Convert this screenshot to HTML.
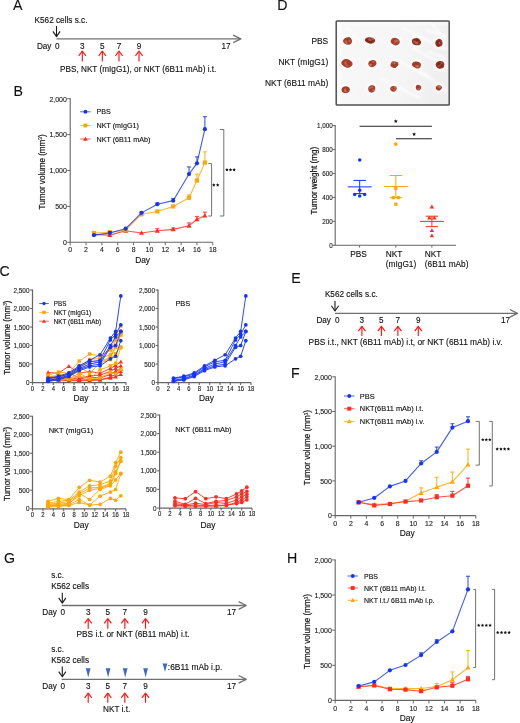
<!DOCTYPE html>
<html><head><meta charset="utf-8">
<style>
html,body{margin:0;padding:0;background:#fff;width:520px;height:723px;overflow:hidden;}
svg{display:block;font-family:"Liberation Sans", sans-serif;will-change:transform;}
</style></head>
<body>
<svg width="520" height="723" viewBox="0 0 520 723">
<rect width="520" height="723" fill="#fff"/>
<text x="13" y="9.8" font-size="14.2" textLength="9.47" lengthAdjust="spacingAndGlyphs" text-anchor="start" fill="#111" stroke="#111" stroke-width="0.1" >A</text>
<text x="34.6" y="22.5" font-size="8.77" textLength="52.87" lengthAdjust="spacingAndGlyphs" text-anchor="start" fill="#111" stroke="#111" stroke-width="0.13" >K562 cells s.c.</text>
<line x1="56.5" y1="26" x2="56.5" y2="36.3" stroke="#1a1a1a" stroke-width="1.1" />
<polyline points="52.9,31.4 56.5,36.6 60.1,31.4" fill="none" stroke="#1a1a1a" stroke-width="1.1" stroke-linejoin="round" />
<line x1="56.5" y1="38.9" x2="240" y2="38.9" stroke="#707070" stroke-width="1.3" />
<polyline points="233.2,35.1 240.8,38.9 233.2,42.7" fill="none" stroke="#707070" stroke-width="1.3" stroke-linejoin="round" />
<text x="36.9" y="49.2" font-size="8.77" textLength="14.58" lengthAdjust="spacingAndGlyphs" text-anchor="start" fill="#111" stroke="#111" stroke-width="0.13" >Day</text>
<text x="57.3" y="49.2" font-size="8.77" textLength="4.56" lengthAdjust="spacingAndGlyphs" text-anchor="middle" fill="#111" stroke="#111" stroke-width="0.13" >0</text>
<text x="82.3" y="49.2" font-size="8.77" textLength="4.56" lengthAdjust="spacingAndGlyphs" text-anchor="middle" fill="#111" stroke="#111" stroke-width="0.13" >3</text>
<text x="102.3" y="49.2" font-size="8.77" textLength="4.56" lengthAdjust="spacingAndGlyphs" text-anchor="middle" fill="#111" stroke="#111" stroke-width="0.13" >5</text>
<text x="119" y="49.2" font-size="8.77" textLength="4.56" lengthAdjust="spacingAndGlyphs" text-anchor="middle" fill="#111" stroke="#111" stroke-width="0.13" >7</text>
<text x="139" y="49.2" font-size="8.77" textLength="4.56" lengthAdjust="spacingAndGlyphs" text-anchor="middle" fill="#111" stroke="#111" stroke-width="0.13" >9</text>
<text x="226" y="48.8" font-size="8.77" textLength="9.12" lengthAdjust="spacingAndGlyphs" text-anchor="middle" fill="#111" stroke="#111" stroke-width="0.13" >17</text>
<line x1="82.3" y1="51.3" x2="82.3" y2="61.5" stroke="#ff1414" stroke-width="1.15" />
<polyline points="78.75,55.8 82.3,51 85.85,55.8" fill="none" stroke="#ff1414" stroke-width="1.15" stroke-linejoin="round" />
<line x1="102.3" y1="51.3" x2="102.3" y2="61.5" stroke="#ff1414" stroke-width="1.15" />
<polyline points="98.75,55.8 102.3,51 105.85,55.8" fill="none" stroke="#ff1414" stroke-width="1.15" stroke-linejoin="round" />
<line x1="119" y1="51.3" x2="119" y2="61.5" stroke="#ff1414" stroke-width="1.15" />
<polyline points="115.45,55.8 119,51 122.55,55.8" fill="none" stroke="#ff1414" stroke-width="1.15" stroke-linejoin="round" />
<line x1="139" y1="51.3" x2="139" y2="61.5" stroke="#ff1414" stroke-width="1.15" />
<polyline points="135.45,55.8 139,51 142.55,55.8" fill="none" stroke="#ff1414" stroke-width="1.15" stroke-linejoin="round" />
<text x="60" y="71.5" font-size="8.77" textLength="156.3" lengthAdjust="spacingAndGlyphs" text-anchor="start" fill="#111" stroke="#111" stroke-width="0.13" >PBS, NKT (mIgG1), or NKT (6B11 mAb) i.t.</text>
<text x="13.5" y="96.3" font-size="14.2" textLength="9.47" lengthAdjust="spacingAndGlyphs" text-anchor="start" fill="#111" stroke="#111" stroke-width="0.1" >B</text>
<line x1="70.2" y1="242.3" x2="70.2" y2="98.2" stroke="#666666" stroke-width="1.1" />
<line x1="69.7" y1="242.3" x2="212.8" y2="242.3" stroke="#666666" stroke-width="1.1" />
<line x1="67.2" y1="242.3" x2="70.2" y2="242.3" stroke="#666666" stroke-width="0.99" />
<text x="66.9" y="245.1" font-size="7.49" textLength="3.89" lengthAdjust="spacingAndGlyphs" text-anchor="end" fill="#222" stroke="#222" stroke-width="0.13" >0</text>
<line x1="67.2" y1="206.4" x2="70.2" y2="206.4" stroke="#666666" stroke-width="0.99" />
<text x="66.9" y="209.2" font-size="7.49" textLength="11.68" lengthAdjust="spacingAndGlyphs" text-anchor="end" fill="#222" stroke="#222" stroke-width="0.13" >500</text>
<line x1="67.2" y1="170.5" x2="70.2" y2="170.5" stroke="#666666" stroke-width="0.99" />
<text x="66.9" y="173.3" font-size="7.49" textLength="17.52" lengthAdjust="spacingAndGlyphs" text-anchor="end" fill="#222" stroke="#222" stroke-width="0.13" >1,000</text>
<line x1="67.2" y1="134.6" x2="70.2" y2="134.6" stroke="#666666" stroke-width="0.99" />
<text x="66.9" y="137.4" font-size="7.49" textLength="17.52" lengthAdjust="spacingAndGlyphs" text-anchor="end" fill="#222" stroke="#222" stroke-width="0.13" >1,500</text>
<line x1="67.2" y1="98.7" x2="70.2" y2="98.7" stroke="#666666" stroke-width="0.99" />
<text x="66.9" y="101.5" font-size="7.49" textLength="17.52" lengthAdjust="spacingAndGlyphs" text-anchor="end" fill="#222" stroke="#222" stroke-width="0.13" >2,000</text>
<line x1="70.2" y1="242.3" x2="70.2" y2="245.3" stroke="#666666" stroke-width="0.99" />
<text x="70.2" y="252.4" font-size="7.38" textLength="3.84" lengthAdjust="spacingAndGlyphs" text-anchor="middle" fill="#222" stroke="#222" stroke-width="0.13" >0</text>
<line x1="86.04" y1="242.3" x2="86.04" y2="245.3" stroke="#666666" stroke-width="0.99" />
<text x="86.04" y="252.4" font-size="7.38" textLength="3.84" lengthAdjust="spacingAndGlyphs" text-anchor="middle" fill="#222" stroke="#222" stroke-width="0.13" >2</text>
<line x1="101.89" y1="242.3" x2="101.89" y2="245.3" stroke="#666666" stroke-width="0.99" />
<text x="101.89" y="252.4" font-size="7.38" textLength="3.84" lengthAdjust="spacingAndGlyphs" text-anchor="middle" fill="#222" stroke="#222" stroke-width="0.13" >4</text>
<line x1="117.73" y1="242.3" x2="117.73" y2="245.3" stroke="#666666" stroke-width="0.99" />
<text x="117.73" y="252.4" font-size="7.38" textLength="3.84" lengthAdjust="spacingAndGlyphs" text-anchor="middle" fill="#222" stroke="#222" stroke-width="0.13" >6</text>
<line x1="133.58" y1="242.3" x2="133.58" y2="245.3" stroke="#666666" stroke-width="0.99" />
<text x="133.58" y="252.4" font-size="7.38" textLength="3.84" lengthAdjust="spacingAndGlyphs" text-anchor="middle" fill="#222" stroke="#222" stroke-width="0.13" >8</text>
<line x1="149.42" y1="242.3" x2="149.42" y2="245.3" stroke="#666666" stroke-width="0.99" />
<text x="149.42" y="252.4" font-size="7.38" textLength="7.68" lengthAdjust="spacingAndGlyphs" text-anchor="middle" fill="#222" stroke="#222" stroke-width="0.13" >10</text>
<line x1="165.27" y1="242.3" x2="165.27" y2="245.3" stroke="#666666" stroke-width="0.99" />
<text x="165.27" y="252.4" font-size="7.38" textLength="7.68" lengthAdjust="spacingAndGlyphs" text-anchor="middle" fill="#222" stroke="#222" stroke-width="0.13" >12</text>
<line x1="181.11" y1="242.3" x2="181.11" y2="245.3" stroke="#666666" stroke-width="0.99" />
<text x="181.11" y="252.4" font-size="7.38" textLength="7.68" lengthAdjust="spacingAndGlyphs" text-anchor="middle" fill="#222" stroke="#222" stroke-width="0.13" >14</text>
<line x1="196.96" y1="242.3" x2="196.96" y2="245.3" stroke="#666666" stroke-width="0.99" />
<text x="196.96" y="252.4" font-size="7.38" textLength="7.68" lengthAdjust="spacingAndGlyphs" text-anchor="middle" fill="#222" stroke="#222" stroke-width="0.13" >16</text>
<line x1="212.8" y1="242.3" x2="212.8" y2="245.3" stroke="#666666" stroke-width="0.99" />
<text x="212.8" y="252.4" font-size="7.38" textLength="7.68" lengthAdjust="spacingAndGlyphs" text-anchor="middle" fill="#222" stroke="#222" stroke-width="0.13" >18</text>
<text x="142.6" y="263" font-size="8.99" textLength="14.94" lengthAdjust="spacingAndGlyphs" text-anchor="middle" fill="#111" stroke="#111" stroke-width="0.13" >Day</text>
<text x="0" y="0" font-size="8.1" text-anchor="middle" fill="#1a1a1a" stroke="#1a1a1a" stroke-width="0.2" transform="translate(44.6,171.9) rotate(-90) scale(1,1.1)">Tumor volume (mm<tspan font-size="4.7" dy="-2.6" stroke-width="0.1">3</tspan><tspan dy="2.6">)</tspan></text>
<line x1="109.81" y1="235.12" x2="109.81" y2="232.97" stroke="#ff2b1f" stroke-width="1.15" opacity="0.8"/>
<line x1="107.81" y1="232.97" x2="111.81" y2="232.97" stroke="#ff2b1f" stroke-width="1.15" opacity="0.8"/>
<line x1="157.34" y1="230.81" x2="157.34" y2="228.66" stroke="#ff2b1f" stroke-width="1.15" opacity="0.8"/>
<line x1="155.34" y1="228.66" x2="159.34" y2="228.66" stroke="#ff2b1f" stroke-width="1.15" opacity="0.8"/>
<line x1="173.19" y1="229.38" x2="173.19" y2="227.94" stroke="#ff2b1f" stroke-width="1.15" opacity="0.8"/>
<line x1="171.19" y1="227.94" x2="175.19" y2="227.94" stroke="#ff2b1f" stroke-width="1.15" opacity="0.8"/>
<line x1="189.03" y1="225.79" x2="189.03" y2="222.91" stroke="#ff2b1f" stroke-width="1.15" opacity="0.8"/>
<line x1="187.03" y1="222.91" x2="191.03" y2="222.91" stroke="#ff2b1f" stroke-width="1.15" opacity="0.8"/>
<line x1="196.96" y1="219.32" x2="196.96" y2="216.45" stroke="#ff2b1f" stroke-width="1.15" opacity="0.8"/>
<line x1="194.96" y1="216.45" x2="198.96" y2="216.45" stroke="#ff2b1f" stroke-width="1.15" opacity="0.8"/>
<line x1="204.88" y1="215.73" x2="204.88" y2="212.14" stroke="#ff2b1f" stroke-width="1.15" opacity="0.8"/>
<line x1="202.88" y1="212.14" x2="206.88" y2="212.14" stroke="#ff2b1f" stroke-width="1.15" opacity="0.8"/>
<polyline points="93.97,234.4 109.81,235.12 125.66,230.81 141.5,232.97 157.34,230.81 173.19,229.38 189.03,225.79 196.96,219.32 204.88,215.73" fill="none" stroke="#ff2b1f" stroke-width="1.1" stroke-linejoin="round" opacity="0.82"/>
<polygon points="93.97,231.88 91.45,236.29 96.49,236.29" fill="#ff2b1f" />
<polygon points="109.81,232.6 107.29,237.01 112.33,237.01" fill="#ff2b1f" />
<polygon points="125.66,228.29 123.14,232.7 128.18,232.7" fill="#ff2b1f" />
<polygon points="141.5,230.45 138.98,234.86 144.02,234.86" fill="#ff2b1f" />
<polygon points="157.34,228.29 154.82,232.7 159.86,232.7" fill="#ff2b1f" />
<polygon points="173.19,226.86 170.67,231.27 175.71,231.27" fill="#ff2b1f" />
<polygon points="189.03,223.27 186.51,227.68 191.55,227.68" fill="#ff2b1f" />
<polygon points="196.96,216.8 194.44,221.21 199.48,221.21" fill="#ff2b1f" />
<polygon points="204.88,213.21 202.36,217.62 207.4,217.62" fill="#ff2b1f" />
<line x1="189.03" y1="197.78" x2="189.03" y2="194.91" stroke="#ffa602" stroke-width="1.15" opacity="0.8"/>
<line x1="187.03" y1="194.91" x2="191.03" y2="194.91" stroke="#ffa602" stroke-width="1.15" opacity="0.8"/>
<line x1="196.96" y1="180.55" x2="196.96" y2="174.09" stroke="#ffa602" stroke-width="1.15" opacity="0.8"/>
<line x1="194.96" y1="174.09" x2="198.96" y2="174.09" stroke="#ffa602" stroke-width="1.15" opacity="0.8"/>
<line x1="204.88" y1="162.6" x2="204.88" y2="151.83" stroke="#ffa602" stroke-width="1.15" opacity="0.8"/>
<line x1="202.88" y1="151.83" x2="206.88" y2="151.83" stroke="#ffa602" stroke-width="1.15" opacity="0.8"/>
<polyline points="93.97,232.97 109.81,232.25 125.66,230.09 141.5,214.3 157.34,211.43 173.19,206.4 189.03,197.78 196.96,180.55 204.88,162.6" fill="none" stroke="#ffa602" stroke-width="1.1" stroke-linejoin="round" opacity="0.82"/>
<rect x="91.87" y="230.87" width="4.2" height="4.2" fill="#ffa602"/>
<rect x="107.71" y="230.15" width="4.2" height="4.2" fill="#ffa602"/>
<rect x="123.56" y="227.99" width="4.2" height="4.2" fill="#ffa602"/>
<rect x="139.4" y="212.2" width="4.2" height="4.2" fill="#ffa602"/>
<rect x="155.24" y="209.33" width="4.2" height="4.2" fill="#ffa602"/>
<rect x="171.09" y="204.3" width="4.2" height="4.2" fill="#ffa602"/>
<rect x="186.93" y="195.68" width="4.2" height="4.2" fill="#ffa602"/>
<rect x="194.86" y="178.45" width="4.2" height="4.2" fill="#ffa602"/>
<rect x="202.78" y="160.5" width="4.2" height="4.2" fill="#ffa602"/>
<line x1="109.81" y1="232.97" x2="109.81" y2="231.53" stroke="#1434fa" stroke-width="1.15" opacity="0.8"/>
<line x1="107.81" y1="231.53" x2="111.81" y2="231.53" stroke="#1434fa" stroke-width="1.15" opacity="0.8"/>
<line x1="141.5" y1="212.86" x2="141.5" y2="212.14" stroke="#1434fa" stroke-width="1.15" opacity="0.8"/>
<line x1="139.5" y1="212.14" x2="143.5" y2="212.14" stroke="#1434fa" stroke-width="1.15" opacity="0.8"/>
<line x1="157.34" y1="204.25" x2="157.34" y2="202.81" stroke="#1434fa" stroke-width="1.15" opacity="0.8"/>
<line x1="155.34" y1="202.81" x2="159.34" y2="202.81" stroke="#1434fa" stroke-width="1.15" opacity="0.8"/>
<line x1="173.19" y1="200.66" x2="173.19" y2="198.5" stroke="#1434fa" stroke-width="1.15" opacity="0.8"/>
<line x1="171.19" y1="198.5" x2="175.19" y2="198.5" stroke="#1434fa" stroke-width="1.15" opacity="0.8"/>
<line x1="189.03" y1="174.09" x2="189.03" y2="166.91" stroke="#1434fa" stroke-width="1.15" opacity="0.8"/>
<line x1="187.03" y1="166.91" x2="191.03" y2="166.91" stroke="#1434fa" stroke-width="1.15" opacity="0.8"/>
<line x1="196.96" y1="163.32" x2="196.96" y2="156.86" stroke="#1434fa" stroke-width="1.15" opacity="0.8"/>
<line x1="194.96" y1="156.86" x2="198.96" y2="156.86" stroke="#1434fa" stroke-width="1.15" opacity="0.8"/>
<line x1="204.88" y1="129.21" x2="204.88" y2="116.65" stroke="#1434fa" stroke-width="1.15" opacity="0.8"/>
<line x1="202.88" y1="116.65" x2="206.88" y2="116.65" stroke="#1434fa" stroke-width="1.15" opacity="0.8"/>
<polyline points="93.97,235.12 109.81,232.97 125.66,228.66 141.5,212.86 157.34,204.25 173.19,200.66 189.03,174.09 196.96,163.32 204.88,129.21" fill="none" stroke="#1434fa" stroke-width="1.1" stroke-linejoin="round" opacity="0.82"/>
<circle cx="93.97" cy="235.12" r="2.1" fill="#1434fa"/>
<circle cx="109.81" cy="232.97" r="2.1" fill="#1434fa"/>
<circle cx="125.66" cy="228.66" r="2.1" fill="#1434fa"/>
<circle cx="141.5" cy="212.86" r="2.1" fill="#1434fa"/>
<circle cx="157.34" cy="204.25" r="2.1" fill="#1434fa"/>
<circle cx="173.19" cy="200.66" r="2.1" fill="#1434fa"/>
<circle cx="189.03" cy="174.09" r="2.1" fill="#1434fa"/>
<circle cx="196.96" cy="163.32" r="2.1" fill="#1434fa"/>
<circle cx="204.88" cy="129.21" r="2.1" fill="#1434fa"/>
<line x1="80.1" y1="111.8" x2="90.7" y2="111.8" stroke="#1434fa" stroke-width="1" opacity="0.75"/>
<circle cx="85.4" cy="111.8" r="1.95" fill="#1434fa"/>
<text x="96.5" y="114.4" font-size="7.67" textLength="14.35" lengthAdjust="spacingAndGlyphs" text-anchor="start" fill="#111" stroke="#111" stroke-width="0.13" >PBS</text>
<line x1="80.1" y1="125.5" x2="90.7" y2="125.5" stroke="#ffa602" stroke-width="1" opacity="0.75"/>
<rect x="83.45" y="123.55" width="3.9" height="3.9" fill="#ffa602"/>
<text x="96.5" y="128.1" font-size="7.67" textLength="42.5" lengthAdjust="spacingAndGlyphs" text-anchor="start" fill="#111" stroke="#111" stroke-width="0.13" >NKT (mIgG1)</text>
<line x1="80.1" y1="139" x2="90.7" y2="139" stroke="#ff2b1f" stroke-width="1" opacity="0.75"/>
<polygon points="85.4,136.66 83.06,140.75 87.74,140.75" fill="#ff2b1f" />
<text x="96.5" y="141.6" font-size="7.67" textLength="53.93" lengthAdjust="spacingAndGlyphs" text-anchor="start" fill="#111" stroke="#111" stroke-width="0.13" >NKT (6B11 mAb)</text>
<polyline points="208.3,163.6 211.6,163.6 211.6,216 208.3,216" fill="none" stroke="#6a6a6a" stroke-width="0.95" stroke-linejoin="round" />
<polygon points="213.8,183.2 214.33,184.27 215.51,184.44 214.66,185.28 214.86,186.46 213.8,185.9 212.74,186.46 212.94,185.28 212.09,184.44 213.27,184.27" fill="#111" />
<polygon points="217.7,183.2 218.23,184.27 219.41,184.44 218.56,185.28 218.76,186.46 217.7,185.9 216.64,186.46 216.84,185.28 215.99,184.44 217.17,184.27" fill="#111" />
<polyline points="219.9,129.5 223.8,129.5 223.8,216 219.9,216" fill="none" stroke="#6a6a6a" stroke-width="0.95" stroke-linejoin="round" />
<polygon points="226.9,168 227.43,169.07 228.61,169.24 227.76,170.08 227.96,171.26 226.9,170.7 225.84,171.26 226.04,170.08 225.19,169.24 226.37,169.07" fill="#111" />
<polygon points="230.5,168 231.03,169.07 232.21,169.24 231.36,170.08 231.56,171.26 230.5,170.7 229.44,171.26 229.64,170.08 228.79,169.24 229.97,169.07" fill="#111" />
<polygon points="234.1,168 234.63,169.07 235.81,169.24 234.96,170.08 235.16,171.26 234.1,170.7 233.04,171.26 233.24,170.08 232.39,169.24 233.57,169.07" fill="#111" />
<text x="-0.5" y="275.6" font-size="14.2" textLength="10.26" lengthAdjust="spacingAndGlyphs" text-anchor="start" fill="#111" stroke="#111" stroke-width="0.1" >C</text>
<line x1="32.5" y1="382.5" x2="32.5" y2="289.5" stroke="#666666" stroke-width="1.25" />
<line x1="32" y1="382.5" x2="126" y2="382.5" stroke="#666666" stroke-width="1.25" />
<line x1="30.1" y1="382.5" x2="32.5" y2="382.5" stroke="#666666" stroke-width="1.12" />
<text x="29.5" y="385.06" font-size="6.85" textLength="3.56" lengthAdjust="spacingAndGlyphs" text-anchor="end" fill="#222" stroke="#222" stroke-width="0.13" >0</text>
<line x1="30.1" y1="364" x2="32.5" y2="364" stroke="#666666" stroke-width="1.12" />
<text x="29.5" y="366.56" font-size="6.85" textLength="10.68" lengthAdjust="spacingAndGlyphs" text-anchor="end" fill="#222" stroke="#222" stroke-width="0.13" >500</text>
<line x1="30.1" y1="345.5" x2="32.5" y2="345.5" stroke="#666666" stroke-width="1.12" />
<text x="29.5" y="348.06" font-size="6.85" textLength="16.02" lengthAdjust="spacingAndGlyphs" text-anchor="end" fill="#222" stroke="#222" stroke-width="0.13" >1,000</text>
<line x1="30.1" y1="327" x2="32.5" y2="327" stroke="#666666" stroke-width="1.12" />
<text x="29.5" y="329.56" font-size="6.85" textLength="16.02" lengthAdjust="spacingAndGlyphs" text-anchor="end" fill="#222" stroke="#222" stroke-width="0.13" >1,500</text>
<line x1="30.1" y1="308.5" x2="32.5" y2="308.5" stroke="#666666" stroke-width="1.12" />
<text x="29.5" y="311.06" font-size="6.85" textLength="16.02" lengthAdjust="spacingAndGlyphs" text-anchor="end" fill="#222" stroke="#222" stroke-width="0.13" >2,000</text>
<line x1="30.1" y1="290" x2="32.5" y2="290" stroke="#666666" stroke-width="1.12" />
<text x="29.5" y="292.56" font-size="6.85" textLength="16.02" lengthAdjust="spacingAndGlyphs" text-anchor="end" fill="#222" stroke="#222" stroke-width="0.13" >2,500</text>
<line x1="32.5" y1="382.5" x2="32.5" y2="384.9" stroke="#666666" stroke-width="1.12" />
<text x="32.5" y="390.8" font-size="6.31" textLength="3.28" lengthAdjust="spacingAndGlyphs" text-anchor="middle" fill="#222" stroke="#222" stroke-width="0.13" >0</text>
<line x1="42.89" y1="382.5" x2="42.89" y2="384.9" stroke="#666666" stroke-width="1.12" />
<text x="42.89" y="390.8" font-size="6.31" textLength="3.28" lengthAdjust="spacingAndGlyphs" text-anchor="middle" fill="#222" stroke="#222" stroke-width="0.13" >2</text>
<line x1="53.28" y1="382.5" x2="53.28" y2="384.9" stroke="#666666" stroke-width="1.12" />
<text x="53.28" y="390.8" font-size="6.31" textLength="3.28" lengthAdjust="spacingAndGlyphs" text-anchor="middle" fill="#222" stroke="#222" stroke-width="0.13" >4</text>
<line x1="63.67" y1="382.5" x2="63.67" y2="384.9" stroke="#666666" stroke-width="1.12" />
<text x="63.67" y="390.8" font-size="6.31" textLength="3.28" lengthAdjust="spacingAndGlyphs" text-anchor="middle" fill="#222" stroke="#222" stroke-width="0.13" >6</text>
<line x1="74.06" y1="382.5" x2="74.06" y2="384.9" stroke="#666666" stroke-width="1.12" />
<text x="74.06" y="390.8" font-size="6.31" textLength="3.28" lengthAdjust="spacingAndGlyphs" text-anchor="middle" fill="#222" stroke="#222" stroke-width="0.13" >8</text>
<line x1="84.44" y1="382.5" x2="84.44" y2="384.9" stroke="#666666" stroke-width="1.12" />
<text x="84.44" y="390.8" font-size="6.31" textLength="6.56" lengthAdjust="spacingAndGlyphs" text-anchor="middle" fill="#222" stroke="#222" stroke-width="0.13" >10</text>
<line x1="94.83" y1="382.5" x2="94.83" y2="384.9" stroke="#666666" stroke-width="1.12" />
<text x="94.83" y="390.8" font-size="6.31" textLength="6.56" lengthAdjust="spacingAndGlyphs" text-anchor="middle" fill="#222" stroke="#222" stroke-width="0.13" >12</text>
<line x1="105.22" y1="382.5" x2="105.22" y2="384.9" stroke="#666666" stroke-width="1.12" />
<text x="105.22" y="390.8" font-size="6.31" textLength="6.56" lengthAdjust="spacingAndGlyphs" text-anchor="middle" fill="#222" stroke="#222" stroke-width="0.13" >14</text>
<line x1="115.61" y1="382.5" x2="115.61" y2="384.9" stroke="#666666" stroke-width="1.12" />
<text x="115.61" y="390.8" font-size="6.31" textLength="6.56" lengthAdjust="spacingAndGlyphs" text-anchor="middle" fill="#222" stroke="#222" stroke-width="0.13" >16</text>
<line x1="126" y1="382.5" x2="126" y2="384.9" stroke="#666666" stroke-width="1.12" />
<text x="126" y="390.8" font-size="6.31" textLength="6.56" lengthAdjust="spacingAndGlyphs" text-anchor="middle" fill="#222" stroke="#222" stroke-width="0.13" >18</text>
<text x="0" y="0" font-size="8" text-anchor="middle" fill="#1a1a1a" stroke="#1a1a1a" stroke-width="0.2" transform="translate(10.2,337.65) rotate(-90) scale(1,1.1)">Tumor volume (mm<tspan font-size="4.64" dy="-2.6" stroke-width="0.1">3</tspan><tspan dy="2.6">)</tspan></text>
<text x="81" y="401.3" font-size="8.99" textLength="14.94" lengthAdjust="spacingAndGlyphs" text-anchor="middle" fill="#111" stroke="#111" stroke-width="0.13" >Day</text>
<polyline points="48.08,372.51 58.47,373.25 68.86,366.22 79.25,373.25 89.64,371.4 100.03,373.25 110.42,368.44 115.61,365.48 120.81,361.78" fill="none" stroke="#ff2b1f" stroke-width="0.9" stroke-linejoin="round" />
<polygon points="48.08,370.29 45.86,374.18 50.3,374.18" fill="#ff2b1f" />
<polygon points="58.47,371.03 56.25,374.92 60.69,374.92" fill="#ff2b1f" />
<polygon points="68.86,364 66.64,367.89 71.08,367.89" fill="#ff2b1f" />
<polygon points="79.25,371.03 77.03,374.92 81.47,374.92" fill="#ff2b1f" />
<polygon points="89.64,369.18 87.42,373.06 91.86,373.06" fill="#ff2b1f" />
<polygon points="100.03,371.03 97.81,374.92 102.25,374.92" fill="#ff2b1f" />
<polygon points="110.42,366.22 108.2,370.11 112.64,370.11" fill="#ff2b1f" />
<polygon points="115.61,363.26 113.39,367.15 117.83,367.15" fill="#ff2b1f" />
<polygon points="120.81,359.56 118.59,363.44 123.03,363.44" fill="#ff2b1f" />
<polyline points="48.08,375.84 58.47,378.8 68.86,372.88 79.25,378.06 89.64,375.84 100.03,375.1 110.42,371.4 115.61,368.44 120.81,365.85" fill="none" stroke="#ff2b1f" stroke-width="0.9" stroke-linejoin="round" />
<polygon points="48.08,373.62 45.86,377.5 50.3,377.5" fill="#ff2b1f" />
<polygon points="58.47,376.58 56.25,380.47 60.69,380.47" fill="#ff2b1f" />
<polygon points="68.86,370.66 66.64,374.55 71.08,374.55" fill="#ff2b1f" />
<polygon points="79.25,375.84 77.03,379.73 81.47,379.73" fill="#ff2b1f" />
<polygon points="89.64,373.62 87.42,377.5 91.86,377.5" fill="#ff2b1f" />
<polygon points="100.03,372.88 97.81,376.77 102.25,376.77" fill="#ff2b1f" />
<polygon points="110.42,369.18 108.2,373.06 112.64,373.06" fill="#ff2b1f" />
<polygon points="115.61,366.22 113.39,370.11 117.83,370.11" fill="#ff2b1f" />
<polygon points="120.81,363.63 118.59,367.52 123.03,367.52" fill="#ff2b1f" />
<polyline points="48.08,378.06 58.47,379.54 68.86,377.69 79.25,379.17 89.64,376.95 100.03,378.06 110.42,374.36 115.61,371.4 120.81,368.81" fill="none" stroke="#ff2b1f" stroke-width="0.9" stroke-linejoin="round" />
<polygon points="48.08,375.84 45.86,379.73 50.3,379.73" fill="#ff2b1f" />
<polygon points="58.47,377.32 56.25,381.21 60.69,381.21" fill="#ff2b1f" />
<polygon points="68.86,375.47 66.64,379.36 71.08,379.36" fill="#ff2b1f" />
<polygon points="79.25,376.95 77.03,380.84 81.47,380.84" fill="#ff2b1f" />
<polygon points="89.64,374.73 87.42,378.62 91.86,378.62" fill="#ff2b1f" />
<polygon points="100.03,375.84 97.81,379.73 102.25,379.73" fill="#ff2b1f" />
<polygon points="110.42,372.14 108.2,376.03 112.64,376.03" fill="#ff2b1f" />
<polygon points="115.61,369.18 113.39,373.06 117.83,373.06" fill="#ff2b1f" />
<polygon points="120.81,366.59 118.59,370.48 123.03,370.48" fill="#ff2b1f" />
<polyline points="48.08,379.54 58.47,380.28 68.86,379.54 79.25,380.28 89.64,379.54 100.03,379.91 110.42,376.95 115.61,374.36 120.81,371.4" fill="none" stroke="#ff2b1f" stroke-width="0.9" stroke-linejoin="round" />
<polygon points="48.08,377.32 45.86,381.21 50.3,381.21" fill="#ff2b1f" />
<polygon points="58.47,378.06 56.25,381.94 60.69,381.94" fill="#ff2b1f" />
<polygon points="68.86,377.32 66.64,381.21 71.08,381.21" fill="#ff2b1f" />
<polygon points="79.25,378.06 77.03,381.94 81.47,381.94" fill="#ff2b1f" />
<polygon points="89.64,377.32 87.42,381.21 91.86,381.21" fill="#ff2b1f" />
<polygon points="100.03,377.69 97.81,381.58 102.25,381.58" fill="#ff2b1f" />
<polygon points="110.42,374.73 108.2,378.62 112.64,378.62" fill="#ff2b1f" />
<polygon points="115.61,372.14 113.39,376.03 117.83,376.03" fill="#ff2b1f" />
<polygon points="120.81,369.18 118.59,373.06 123.03,373.06" fill="#ff2b1f" />
<polyline points="48.08,380.28 58.47,380.65 68.86,380.65 79.25,380.65 89.64,380.65 100.03,379.91 110.42,378.06 115.61,376.95 120.81,374.36" fill="none" stroke="#ff2b1f" stroke-width="0.9" stroke-linejoin="round" />
<polygon points="48.08,378.06 45.86,381.94 50.3,381.94" fill="#ff2b1f" />
<polygon points="58.47,378.43 56.25,382.31 60.69,382.31" fill="#ff2b1f" />
<polygon points="68.86,378.43 66.64,382.31 71.08,382.31" fill="#ff2b1f" />
<polygon points="79.25,378.43 77.03,382.31 81.47,382.31" fill="#ff2b1f" />
<polygon points="89.64,378.43 87.42,382.31 91.86,382.31" fill="#ff2b1f" />
<polygon points="100.03,377.69 97.81,381.58 102.25,381.58" fill="#ff2b1f" />
<polygon points="110.42,375.84 108.2,379.73 112.64,379.73" fill="#ff2b1f" />
<polygon points="115.61,374.73 113.39,378.62 117.83,378.62" fill="#ff2b1f" />
<polygon points="120.81,372.14 118.59,376.03 123.03,376.03" fill="#ff2b1f" />
<polyline points="48.08,375.1 58.47,372.14 68.86,373.25 79.25,361.04 89.64,354.01 100.03,355.86 110.42,349.94 115.61,336.25 120.81,325.89" fill="none" stroke="#ffa602" stroke-width="0.9" stroke-linejoin="round" />
<rect x="46.38" y="373.4" width="3.4" height="3.4" fill="#ffa602"/>
<rect x="56.77" y="370.44" width="3.4" height="3.4" fill="#ffa602"/>
<rect x="67.16" y="371.55" width="3.4" height="3.4" fill="#ffa602"/>
<rect x="77.55" y="359.34" width="3.4" height="3.4" fill="#ffa602"/>
<rect x="87.94" y="352.31" width="3.4" height="3.4" fill="#ffa602"/>
<rect x="98.33" y="354.16" width="3.4" height="3.4" fill="#ffa602"/>
<rect x="108.72" y="348.24" width="3.4" height="3.4" fill="#ffa602"/>
<rect x="113.91" y="334.55" width="3.4" height="3.4" fill="#ffa602"/>
<rect x="119.11" y="324.19" width="3.4" height="3.4" fill="#ffa602"/>
<polyline points="48.08,376.95 58.47,375.1 68.86,373.99 79.25,365.85 89.64,359.56 100.03,358.45 110.42,354.75 115.61,339.95 120.81,331.44" fill="none" stroke="#ffa602" stroke-width="0.9" stroke-linejoin="round" />
<rect x="46.38" y="375.25" width="3.4" height="3.4" fill="#ffa602"/>
<rect x="56.77" y="373.4" width="3.4" height="3.4" fill="#ffa602"/>
<rect x="67.16" y="372.29" width="3.4" height="3.4" fill="#ffa602"/>
<rect x="77.55" y="364.15" width="3.4" height="3.4" fill="#ffa602"/>
<rect x="87.94" y="357.86" width="3.4" height="3.4" fill="#ffa602"/>
<rect x="98.33" y="356.75" width="3.4" height="3.4" fill="#ffa602"/>
<rect x="108.72" y="353.05" width="3.4" height="3.4" fill="#ffa602"/>
<rect x="113.91" y="338.25" width="3.4" height="3.4" fill="#ffa602"/>
<rect x="119.11" y="329.74" width="3.4" height="3.4" fill="#ffa602"/>
<polyline points="48.08,378.06 58.47,376.95 68.86,375.1 79.25,367.7 89.64,361.78 100.03,361.04 110.42,357.34 115.61,345.5 120.81,334.4" fill="none" stroke="#ffa602" stroke-width="0.9" stroke-linejoin="round" />
<rect x="46.38" y="376.36" width="3.4" height="3.4" fill="#ffa602"/>
<rect x="56.77" y="375.25" width="3.4" height="3.4" fill="#ffa602"/>
<rect x="67.16" y="373.4" width="3.4" height="3.4" fill="#ffa602"/>
<rect x="77.55" y="366" width="3.4" height="3.4" fill="#ffa602"/>
<rect x="87.94" y="360.08" width="3.4" height="3.4" fill="#ffa602"/>
<rect x="98.33" y="359.34" width="3.4" height="3.4" fill="#ffa602"/>
<rect x="108.72" y="355.64" width="3.4" height="3.4" fill="#ffa602"/>
<rect x="113.91" y="343.8" width="3.4" height="3.4" fill="#ffa602"/>
<rect x="119.11" y="332.7" width="3.4" height="3.4" fill="#ffa602"/>
<polyline points="48.08,378.8 58.47,378.06 68.86,376.95 79.25,369.55 89.64,364 100.03,362.15 110.42,358.45 115.61,347.35 120.81,335.14" fill="none" stroke="#ffa602" stroke-width="0.9" stroke-linejoin="round" />
<rect x="46.38" y="377.1" width="3.4" height="3.4" fill="#ffa602"/>
<rect x="56.77" y="376.36" width="3.4" height="3.4" fill="#ffa602"/>
<rect x="67.16" y="375.25" width="3.4" height="3.4" fill="#ffa602"/>
<rect x="77.55" y="367.85" width="3.4" height="3.4" fill="#ffa602"/>
<rect x="87.94" y="362.3" width="3.4" height="3.4" fill="#ffa602"/>
<rect x="98.33" y="360.45" width="3.4" height="3.4" fill="#ffa602"/>
<rect x="108.72" y="356.75" width="3.4" height="3.4" fill="#ffa602"/>
<rect x="113.91" y="345.65" width="3.4" height="3.4" fill="#ffa602"/>
<rect x="119.11" y="333.44" width="3.4" height="3.4" fill="#ffa602"/>
<polyline points="48.08,379.54 58.47,378.8 68.86,378.06 79.25,366.96 89.64,373.25 100.03,363.26 110.42,359.56 115.61,353.64 120.81,346.98" fill="none" stroke="#ffa602" stroke-width="0.9" stroke-linejoin="round" />
<rect x="46.38" y="377.84" width="3.4" height="3.4" fill="#ffa602"/>
<rect x="56.77" y="377.1" width="3.4" height="3.4" fill="#ffa602"/>
<rect x="67.16" y="376.36" width="3.4" height="3.4" fill="#ffa602"/>
<rect x="77.55" y="365.26" width="3.4" height="3.4" fill="#ffa602"/>
<rect x="87.94" y="371.55" width="3.4" height="3.4" fill="#ffa602"/>
<rect x="98.33" y="361.56" width="3.4" height="3.4" fill="#ffa602"/>
<rect x="108.72" y="357.86" width="3.4" height="3.4" fill="#ffa602"/>
<rect x="113.91" y="351.94" width="3.4" height="3.4" fill="#ffa602"/>
<rect x="119.11" y="345.28" width="3.4" height="3.4" fill="#ffa602"/>
<polyline points="48.08,380.28 58.47,379.54 68.86,378.8 79.25,373.25 89.64,378.8 100.03,369.92 110.42,365.85 115.61,363.26 120.81,347.72" fill="none" stroke="#ffa602" stroke-width="0.9" stroke-linejoin="round" />
<rect x="46.38" y="378.58" width="3.4" height="3.4" fill="#ffa602"/>
<rect x="56.77" y="377.84" width="3.4" height="3.4" fill="#ffa602"/>
<rect x="67.16" y="377.1" width="3.4" height="3.4" fill="#ffa602"/>
<rect x="77.55" y="371.55" width="3.4" height="3.4" fill="#ffa602"/>
<rect x="87.94" y="377.1" width="3.4" height="3.4" fill="#ffa602"/>
<rect x="98.33" y="368.22" width="3.4" height="3.4" fill="#ffa602"/>
<rect x="108.72" y="364.15" width="3.4" height="3.4" fill="#ffa602"/>
<rect x="113.91" y="361.56" width="3.4" height="3.4" fill="#ffa602"/>
<rect x="119.11" y="346.02" width="3.4" height="3.4" fill="#ffa602"/>
<polyline points="48.08,380.65 58.47,380.28 68.86,379.17 79.25,376.21 89.64,378.8 100.03,378.06 110.42,372.14 115.61,373.99 120.81,369.55" fill="none" stroke="#ffa602" stroke-width="0.9" stroke-linejoin="round" />
<rect x="46.38" y="378.95" width="3.4" height="3.4" fill="#ffa602"/>
<rect x="56.77" y="378.58" width="3.4" height="3.4" fill="#ffa602"/>
<rect x="67.16" y="377.47" width="3.4" height="3.4" fill="#ffa602"/>
<rect x="77.55" y="374.51" width="3.4" height="3.4" fill="#ffa602"/>
<rect x="87.94" y="377.1" width="3.4" height="3.4" fill="#ffa602"/>
<rect x="98.33" y="376.36" width="3.4" height="3.4" fill="#ffa602"/>
<rect x="108.72" y="370.44" width="3.4" height="3.4" fill="#ffa602"/>
<rect x="113.91" y="372.29" width="3.4" height="3.4" fill="#ffa602"/>
<rect x="119.11" y="367.85" width="3.4" height="3.4" fill="#ffa602"/>
<polyline points="48.08,378.06 58.47,376.21 68.86,372.88 79.25,365.85 89.64,360.3 100.03,354.75 110.42,338.1 115.61,331.44 120.81,295.92" fill="none" stroke="#1434fa" stroke-width="0.9" stroke-linejoin="round" />
<circle cx="48.08" cy="378.06" r="1.85" fill="#1434fa"/>
<circle cx="58.47" cy="376.21" r="1.85" fill="#1434fa"/>
<circle cx="68.86" cy="372.88" r="1.85" fill="#1434fa"/>
<circle cx="79.25" cy="365.85" r="1.85" fill="#1434fa"/>
<circle cx="89.64" cy="360.3" r="1.85" fill="#1434fa"/>
<circle cx="100.03" cy="354.75" r="1.85" fill="#1434fa"/>
<circle cx="110.42" cy="338.1" r="1.85" fill="#1434fa"/>
<circle cx="115.61" cy="331.44" r="1.85" fill="#1434fa"/>
<circle cx="120.81" cy="295.92" r="1.85" fill="#1434fa"/>
<polyline points="48.08,378.8 58.47,376.95 68.86,373.99 79.25,366.96 89.64,361.78 100.03,360.3 110.42,339.95 115.61,334.4 120.81,324.78" fill="none" stroke="#1434fa" stroke-width="0.9" stroke-linejoin="round" />
<circle cx="48.08" cy="378.8" r="1.85" fill="#1434fa"/>
<circle cx="58.47" cy="376.95" r="1.85" fill="#1434fa"/>
<circle cx="68.86" cy="373.99" r="1.85" fill="#1434fa"/>
<circle cx="79.25" cy="366.96" r="1.85" fill="#1434fa"/>
<circle cx="89.64" cy="361.78" r="1.85" fill="#1434fa"/>
<circle cx="100.03" cy="360.3" r="1.85" fill="#1434fa"/>
<circle cx="110.42" cy="339.95" r="1.85" fill="#1434fa"/>
<circle cx="115.61" cy="334.4" r="1.85" fill="#1434fa"/>
<circle cx="120.81" cy="324.78" r="1.85" fill="#1434fa"/>
<polyline points="48.08,380.28 58.47,378.43 68.86,375.1 79.25,368.44 89.64,364 100.03,361.78 110.42,345.5 115.61,336.99 120.81,331.44" fill="none" stroke="#1434fa" stroke-width="0.9" stroke-linejoin="round" />
<circle cx="48.08" cy="380.28" r="1.85" fill="#1434fa"/>
<circle cx="58.47" cy="378.43" r="1.85" fill="#1434fa"/>
<circle cx="68.86" cy="375.1" r="1.85" fill="#1434fa"/>
<circle cx="79.25" cy="368.44" r="1.85" fill="#1434fa"/>
<circle cx="89.64" cy="364" r="1.85" fill="#1434fa"/>
<circle cx="100.03" cy="361.78" r="1.85" fill="#1434fa"/>
<circle cx="110.42" cy="345.5" r="1.85" fill="#1434fa"/>
<circle cx="115.61" cy="336.99" r="1.85" fill="#1434fa"/>
<circle cx="120.81" cy="331.44" r="1.85" fill="#1434fa"/>
<polyline points="48.08,381.02 58.47,379.17 68.86,375.84 79.25,369.55 89.64,365.85 100.03,364 110.42,347.35 115.61,345.5 120.81,331.44" fill="none" stroke="#1434fa" stroke-width="0.9" stroke-linejoin="round" />
<circle cx="48.08" cy="381.02" r="1.85" fill="#1434fa"/>
<circle cx="58.47" cy="379.17" r="1.85" fill="#1434fa"/>
<circle cx="68.86" cy="375.84" r="1.85" fill="#1434fa"/>
<circle cx="79.25" cy="369.55" r="1.85" fill="#1434fa"/>
<circle cx="89.64" cy="365.85" r="1.85" fill="#1434fa"/>
<circle cx="100.03" cy="364" r="1.85" fill="#1434fa"/>
<circle cx="110.42" cy="347.35" r="1.85" fill="#1434fa"/>
<circle cx="115.61" cy="345.5" r="1.85" fill="#1434fa"/>
<circle cx="120.81" cy="331.44" r="1.85" fill="#1434fa"/>
<polyline points="48.08,381.39 58.47,379.91 68.86,376.58 79.25,370.66 89.64,366.96 100.03,365.85 110.42,358.82 115.61,356.23 120.81,340.69" fill="none" stroke="#1434fa" stroke-width="0.9" stroke-linejoin="round" />
<circle cx="48.08" cy="381.39" r="1.85" fill="#1434fa"/>
<circle cx="58.47" cy="379.91" r="1.85" fill="#1434fa"/>
<circle cx="68.86" cy="376.58" r="1.85" fill="#1434fa"/>
<circle cx="79.25" cy="370.66" r="1.85" fill="#1434fa"/>
<circle cx="89.64" cy="366.96" r="1.85" fill="#1434fa"/>
<circle cx="100.03" cy="365.85" r="1.85" fill="#1434fa"/>
<circle cx="110.42" cy="358.82" r="1.85" fill="#1434fa"/>
<circle cx="115.61" cy="356.23" r="1.85" fill="#1434fa"/>
<circle cx="120.81" cy="340.69" r="1.85" fill="#1434fa"/>
<line x1="39.2" y1="303.5" x2="48.8" y2="303.5" stroke="#1434fa" stroke-width="1" opacity="0.75"/>
<circle cx="44" cy="303.5" r="1.7" fill="#1434fa"/>
<text x="53.8" y="306.1" font-size="6.74" textLength="12.61" lengthAdjust="spacingAndGlyphs" text-anchor="start" fill="#111" stroke="#111" stroke-width="0.13" >PBS</text>
<line x1="39.2" y1="312.4" x2="48.8" y2="312.4" stroke="#ffa602" stroke-width="1" opacity="0.75"/>
<rect x="42.3" y="310.7" width="3.4" height="3.4" fill="#ffa602"/>
<text x="53.8" y="315" font-size="6.74" textLength="37.34" lengthAdjust="spacingAndGlyphs" text-anchor="start" fill="#111" stroke="#111" stroke-width="0.13" >NKT (mIgG1)</text>
<line x1="39.2" y1="321.2" x2="48.8" y2="321.2" stroke="#ff2b1f" stroke-width="1" opacity="0.75"/>
<polygon points="44,319.16 41.96,322.73 46.04,322.73" fill="#ff2b1f" />
<text x="53.8" y="323.8" font-size="6.74" textLength="47.38" lengthAdjust="spacingAndGlyphs" text-anchor="start" fill="#111" stroke="#111" stroke-width="0.13" >NKT (6B11 mAb)</text>
<line x1="158" y1="382.5" x2="158" y2="289.5" stroke="#666666" stroke-width="1.25" />
<line x1="157.5" y1="382.5" x2="251" y2="382.5" stroke="#666666" stroke-width="1.25" />
<line x1="155.6" y1="382.5" x2="158" y2="382.5" stroke="#666666" stroke-width="1.12" />
<text x="155" y="385.06" font-size="6.85" textLength="3.56" lengthAdjust="spacingAndGlyphs" text-anchor="end" fill="#222" stroke="#222" stroke-width="0.13" >0</text>
<line x1="155.6" y1="364" x2="158" y2="364" stroke="#666666" stroke-width="1.12" />
<text x="155" y="366.56" font-size="6.85" textLength="10.68" lengthAdjust="spacingAndGlyphs" text-anchor="end" fill="#222" stroke="#222" stroke-width="0.13" >500</text>
<line x1="155.6" y1="345.5" x2="158" y2="345.5" stroke="#666666" stroke-width="1.12" />
<text x="155" y="348.06" font-size="6.85" textLength="16.02" lengthAdjust="spacingAndGlyphs" text-anchor="end" fill="#222" stroke="#222" stroke-width="0.13" >1,000</text>
<line x1="155.6" y1="327" x2="158" y2="327" stroke="#666666" stroke-width="1.12" />
<text x="155" y="329.56" font-size="6.85" textLength="16.02" lengthAdjust="spacingAndGlyphs" text-anchor="end" fill="#222" stroke="#222" stroke-width="0.13" >1,500</text>
<line x1="155.6" y1="308.5" x2="158" y2="308.5" stroke="#666666" stroke-width="1.12" />
<text x="155" y="311.06" font-size="6.85" textLength="16.02" lengthAdjust="spacingAndGlyphs" text-anchor="end" fill="#222" stroke="#222" stroke-width="0.13" >2,000</text>
<line x1="155.6" y1="290" x2="158" y2="290" stroke="#666666" stroke-width="1.12" />
<text x="155" y="292.56" font-size="6.85" textLength="16.02" lengthAdjust="spacingAndGlyphs" text-anchor="end" fill="#222" stroke="#222" stroke-width="0.13" >2,500</text>
<line x1="158" y1="382.5" x2="158" y2="384.9" stroke="#666666" stroke-width="1.12" />
<text x="158" y="390.8" font-size="6.31" textLength="3.28" lengthAdjust="spacingAndGlyphs" text-anchor="middle" fill="#222" stroke="#222" stroke-width="0.13" >0</text>
<line x1="168.33" y1="382.5" x2="168.33" y2="384.9" stroke="#666666" stroke-width="1.12" />
<text x="168.33" y="390.8" font-size="6.31" textLength="3.28" lengthAdjust="spacingAndGlyphs" text-anchor="middle" fill="#222" stroke="#222" stroke-width="0.13" >2</text>
<line x1="178.67" y1="382.5" x2="178.67" y2="384.9" stroke="#666666" stroke-width="1.12" />
<text x="178.67" y="390.8" font-size="6.31" textLength="3.28" lengthAdjust="spacingAndGlyphs" text-anchor="middle" fill="#222" stroke="#222" stroke-width="0.13" >4</text>
<line x1="189" y1="382.5" x2="189" y2="384.9" stroke="#666666" stroke-width="1.12" />
<text x="189" y="390.8" font-size="6.31" textLength="3.28" lengthAdjust="spacingAndGlyphs" text-anchor="middle" fill="#222" stroke="#222" stroke-width="0.13" >6</text>
<line x1="199.33" y1="382.5" x2="199.33" y2="384.9" stroke="#666666" stroke-width="1.12" />
<text x="199.33" y="390.8" font-size="6.31" textLength="3.28" lengthAdjust="spacingAndGlyphs" text-anchor="middle" fill="#222" stroke="#222" stroke-width="0.13" >8</text>
<line x1="209.67" y1="382.5" x2="209.67" y2="384.9" stroke="#666666" stroke-width="1.12" />
<text x="209.67" y="390.8" font-size="6.31" textLength="6.56" lengthAdjust="spacingAndGlyphs" text-anchor="middle" fill="#222" stroke="#222" stroke-width="0.13" >10</text>
<line x1="220" y1="382.5" x2="220" y2="384.9" stroke="#666666" stroke-width="1.12" />
<text x="220" y="390.8" font-size="6.31" textLength="6.56" lengthAdjust="spacingAndGlyphs" text-anchor="middle" fill="#222" stroke="#222" stroke-width="0.13" >12</text>
<line x1="230.33" y1="382.5" x2="230.33" y2="384.9" stroke="#666666" stroke-width="1.12" />
<text x="230.33" y="390.8" font-size="6.31" textLength="6.56" lengthAdjust="spacingAndGlyphs" text-anchor="middle" fill="#222" stroke="#222" stroke-width="0.13" >14</text>
<line x1="240.67" y1="382.5" x2="240.67" y2="384.9" stroke="#666666" stroke-width="1.12" />
<text x="240.67" y="390.8" font-size="6.31" textLength="6.56" lengthAdjust="spacingAndGlyphs" text-anchor="middle" fill="#222" stroke="#222" stroke-width="0.13" >16</text>
<line x1="251" y1="382.5" x2="251" y2="384.9" stroke="#666666" stroke-width="1.12" />
<text x="251" y="390.8" font-size="6.31" textLength="6.56" lengthAdjust="spacingAndGlyphs" text-anchor="middle" fill="#222" stroke="#222" stroke-width="0.13" >18</text>
<text x="206.5" y="401.3" font-size="8.99" textLength="14.94" lengthAdjust="spacingAndGlyphs" text-anchor="middle" fill="#111" stroke="#111" stroke-width="0.13" >Day</text>
<polyline points="173.5,378.06 183.83,376.21 194.17,372.88 204.5,365.85 214.83,360.3 225.17,354.75 235.5,338.1 240.67,331.44 245.83,295.92" fill="none" stroke="#1434fa" stroke-width="0.9" stroke-linejoin="round" />
<circle cx="173.5" cy="378.06" r="1.85" fill="#1434fa"/>
<circle cx="183.83" cy="376.21" r="1.85" fill="#1434fa"/>
<circle cx="194.17" cy="372.88" r="1.85" fill="#1434fa"/>
<circle cx="204.5" cy="365.85" r="1.85" fill="#1434fa"/>
<circle cx="214.83" cy="360.3" r="1.85" fill="#1434fa"/>
<circle cx="225.17" cy="354.75" r="1.85" fill="#1434fa"/>
<circle cx="235.5" cy="338.1" r="1.85" fill="#1434fa"/>
<circle cx="240.67" cy="331.44" r="1.85" fill="#1434fa"/>
<circle cx="245.83" cy="295.92" r="1.85" fill="#1434fa"/>
<polyline points="173.5,378.8 183.83,376.95 194.17,373.99 204.5,366.96 214.83,361.78 225.17,360.3 235.5,339.95 240.67,334.4 245.83,324.78" fill="none" stroke="#1434fa" stroke-width="0.9" stroke-linejoin="round" />
<circle cx="173.5" cy="378.8" r="1.85" fill="#1434fa"/>
<circle cx="183.83" cy="376.95" r="1.85" fill="#1434fa"/>
<circle cx="194.17" cy="373.99" r="1.85" fill="#1434fa"/>
<circle cx="204.5" cy="366.96" r="1.85" fill="#1434fa"/>
<circle cx="214.83" cy="361.78" r="1.85" fill="#1434fa"/>
<circle cx="225.17" cy="360.3" r="1.85" fill="#1434fa"/>
<circle cx="235.5" cy="339.95" r="1.85" fill="#1434fa"/>
<circle cx="240.67" cy="334.4" r="1.85" fill="#1434fa"/>
<circle cx="245.83" cy="324.78" r="1.85" fill="#1434fa"/>
<polyline points="173.5,380.28 183.83,378.43 194.17,375.1 204.5,368.44 214.83,364 225.17,361.78 235.5,345.5 240.67,336.99 245.83,331.44" fill="none" stroke="#1434fa" stroke-width="0.9" stroke-linejoin="round" />
<circle cx="173.5" cy="380.28" r="1.85" fill="#1434fa"/>
<circle cx="183.83" cy="378.43" r="1.85" fill="#1434fa"/>
<circle cx="194.17" cy="375.1" r="1.85" fill="#1434fa"/>
<circle cx="204.5" cy="368.44" r="1.85" fill="#1434fa"/>
<circle cx="214.83" cy="364" r="1.85" fill="#1434fa"/>
<circle cx="225.17" cy="361.78" r="1.85" fill="#1434fa"/>
<circle cx="235.5" cy="345.5" r="1.85" fill="#1434fa"/>
<circle cx="240.67" cy="336.99" r="1.85" fill="#1434fa"/>
<circle cx="245.83" cy="331.44" r="1.85" fill="#1434fa"/>
<polyline points="173.5,381.02 183.83,379.17 194.17,375.84 204.5,369.55 214.83,365.85 225.17,364 235.5,347.35 240.67,345.5 245.83,331.44" fill="none" stroke="#1434fa" stroke-width="0.9" stroke-linejoin="round" />
<circle cx="173.5" cy="381.02" r="1.85" fill="#1434fa"/>
<circle cx="183.83" cy="379.17" r="1.85" fill="#1434fa"/>
<circle cx="194.17" cy="375.84" r="1.85" fill="#1434fa"/>
<circle cx="204.5" cy="369.55" r="1.85" fill="#1434fa"/>
<circle cx="214.83" cy="365.85" r="1.85" fill="#1434fa"/>
<circle cx="225.17" cy="364" r="1.85" fill="#1434fa"/>
<circle cx="235.5" cy="347.35" r="1.85" fill="#1434fa"/>
<circle cx="240.67" cy="345.5" r="1.85" fill="#1434fa"/>
<circle cx="245.83" cy="331.44" r="1.85" fill="#1434fa"/>
<polyline points="173.5,381.39 183.83,379.91 194.17,376.58 204.5,370.66 214.83,366.96 225.17,365.85 235.5,358.82 240.67,356.23 245.83,340.69" fill="none" stroke="#1434fa" stroke-width="0.9" stroke-linejoin="round" />
<circle cx="173.5" cy="381.39" r="1.85" fill="#1434fa"/>
<circle cx="183.83" cy="379.91" r="1.85" fill="#1434fa"/>
<circle cx="194.17" cy="376.58" r="1.85" fill="#1434fa"/>
<circle cx="204.5" cy="370.66" r="1.85" fill="#1434fa"/>
<circle cx="214.83" cy="366.96" r="1.85" fill="#1434fa"/>
<circle cx="225.17" cy="365.85" r="1.85" fill="#1434fa"/>
<circle cx="235.5" cy="358.82" r="1.85" fill="#1434fa"/>
<circle cx="240.67" cy="356.23" r="1.85" fill="#1434fa"/>
<circle cx="245.83" cy="340.69" r="1.85" fill="#1434fa"/>
<text x="175.4" y="306.3" font-size="7.92" textLength="14.81" lengthAdjust="spacingAndGlyphs" text-anchor="start" fill="#111" stroke="#111" stroke-width="0.13" >PBS</text>
<line x1="32.5" y1="508.75" x2="32.5" y2="415.75" stroke="#666666" stroke-width="1.25" />
<line x1="32" y1="508.75" x2="126" y2="508.75" stroke="#666666" stroke-width="1.25" />
<line x1="30.1" y1="508.75" x2="32.5" y2="508.75" stroke="#666666" stroke-width="1.12" />
<text x="29.5" y="511.31" font-size="6.85" textLength="3.56" lengthAdjust="spacingAndGlyphs" text-anchor="end" fill="#222" stroke="#222" stroke-width="0.13" >0</text>
<line x1="30.1" y1="490.25" x2="32.5" y2="490.25" stroke="#666666" stroke-width="1.12" />
<text x="29.5" y="492.81" font-size="6.85" textLength="10.68" lengthAdjust="spacingAndGlyphs" text-anchor="end" fill="#222" stroke="#222" stroke-width="0.13" >500</text>
<line x1="30.1" y1="471.75" x2="32.5" y2="471.75" stroke="#666666" stroke-width="1.12" />
<text x="29.5" y="474.31" font-size="6.85" textLength="16.02" lengthAdjust="spacingAndGlyphs" text-anchor="end" fill="#222" stroke="#222" stroke-width="0.13" >1,000</text>
<line x1="30.1" y1="453.25" x2="32.5" y2="453.25" stroke="#666666" stroke-width="1.12" />
<text x="29.5" y="455.81" font-size="6.85" textLength="16.02" lengthAdjust="spacingAndGlyphs" text-anchor="end" fill="#222" stroke="#222" stroke-width="0.13" >1,500</text>
<line x1="30.1" y1="434.75" x2="32.5" y2="434.75" stroke="#666666" stroke-width="1.12" />
<text x="29.5" y="437.31" font-size="6.85" textLength="16.02" lengthAdjust="spacingAndGlyphs" text-anchor="end" fill="#222" stroke="#222" stroke-width="0.13" >2,000</text>
<line x1="30.1" y1="416.25" x2="32.5" y2="416.25" stroke="#666666" stroke-width="1.12" />
<text x="29.5" y="418.81" font-size="6.85" textLength="16.02" lengthAdjust="spacingAndGlyphs" text-anchor="end" fill="#222" stroke="#222" stroke-width="0.13" >2,500</text>
<line x1="32.5" y1="508.75" x2="32.5" y2="511.15" stroke="#666666" stroke-width="1.12" />
<text x="32.5" y="517.05" font-size="6.31" textLength="3.28" lengthAdjust="spacingAndGlyphs" text-anchor="middle" fill="#222" stroke="#222" stroke-width="0.13" >0</text>
<line x1="42.89" y1="508.75" x2="42.89" y2="511.15" stroke="#666666" stroke-width="1.12" />
<text x="42.89" y="517.05" font-size="6.31" textLength="3.28" lengthAdjust="spacingAndGlyphs" text-anchor="middle" fill="#222" stroke="#222" stroke-width="0.13" >2</text>
<line x1="53.28" y1="508.75" x2="53.28" y2="511.15" stroke="#666666" stroke-width="1.12" />
<text x="53.28" y="517.05" font-size="6.31" textLength="3.28" lengthAdjust="spacingAndGlyphs" text-anchor="middle" fill="#222" stroke="#222" stroke-width="0.13" >4</text>
<line x1="63.67" y1="508.75" x2="63.67" y2="511.15" stroke="#666666" stroke-width="1.12" />
<text x="63.67" y="517.05" font-size="6.31" textLength="3.28" lengthAdjust="spacingAndGlyphs" text-anchor="middle" fill="#222" stroke="#222" stroke-width="0.13" >6</text>
<line x1="74.06" y1="508.75" x2="74.06" y2="511.15" stroke="#666666" stroke-width="1.12" />
<text x="74.06" y="517.05" font-size="6.31" textLength="3.28" lengthAdjust="spacingAndGlyphs" text-anchor="middle" fill="#222" stroke="#222" stroke-width="0.13" >8</text>
<line x1="84.44" y1="508.75" x2="84.44" y2="511.15" stroke="#666666" stroke-width="1.12" />
<text x="84.44" y="517.05" font-size="6.31" textLength="6.56" lengthAdjust="spacingAndGlyphs" text-anchor="middle" fill="#222" stroke="#222" stroke-width="0.13" >10</text>
<line x1="94.83" y1="508.75" x2="94.83" y2="511.15" stroke="#666666" stroke-width="1.12" />
<text x="94.83" y="517.05" font-size="6.31" textLength="6.56" lengthAdjust="spacingAndGlyphs" text-anchor="middle" fill="#222" stroke="#222" stroke-width="0.13" >12</text>
<line x1="105.22" y1="508.75" x2="105.22" y2="511.15" stroke="#666666" stroke-width="1.12" />
<text x="105.22" y="517.05" font-size="6.31" textLength="6.56" lengthAdjust="spacingAndGlyphs" text-anchor="middle" fill="#222" stroke="#222" stroke-width="0.13" >14</text>
<line x1="115.61" y1="508.75" x2="115.61" y2="511.15" stroke="#666666" stroke-width="1.12" />
<text x="115.61" y="517.05" font-size="6.31" textLength="6.56" lengthAdjust="spacingAndGlyphs" text-anchor="middle" fill="#222" stroke="#222" stroke-width="0.13" >16</text>
<line x1="126" y1="508.75" x2="126" y2="511.15" stroke="#666666" stroke-width="1.12" />
<text x="126" y="517.05" font-size="6.31" textLength="6.56" lengthAdjust="spacingAndGlyphs" text-anchor="middle" fill="#222" stroke="#222" stroke-width="0.13" >18</text>
<text x="0" y="0" font-size="8" text-anchor="middle" fill="#1a1a1a" stroke="#1a1a1a" stroke-width="0.2" transform="translate(10.2,463.9) rotate(-90) scale(1,1.1)">Tumor volume (mm<tspan font-size="4.64" dy="-2.6" stroke-width="0.1">3</tspan><tspan dy="2.6">)</tspan></text>
<text x="81.2" y="527.5" font-size="8.99" textLength="14.94" lengthAdjust="spacingAndGlyphs" text-anchor="middle" fill="#111" stroke="#111" stroke-width="0.13" >Day</text>
<polyline points="48.08,501.35 58.47,498.39 68.86,499.5 79.25,487.29 89.64,480.26 100.03,482.11 110.42,476.19 115.61,462.5 120.81,452.14" fill="none" stroke="#ffa602" stroke-width="0.9" stroke-linejoin="round" />
<circle cx="48.08" cy="501.35" r="1.85" fill="#ffa602"/>
<circle cx="58.47" cy="498.39" r="1.85" fill="#ffa602"/>
<circle cx="68.86" cy="499.5" r="1.85" fill="#ffa602"/>
<circle cx="79.25" cy="487.29" r="1.85" fill="#ffa602"/>
<circle cx="89.64" cy="480.26" r="1.85" fill="#ffa602"/>
<circle cx="100.03" cy="482.11" r="1.85" fill="#ffa602"/>
<circle cx="110.42" cy="476.19" r="1.85" fill="#ffa602"/>
<circle cx="115.61" cy="462.5" r="1.85" fill="#ffa602"/>
<circle cx="120.81" cy="452.14" r="1.85" fill="#ffa602"/>
<polyline points="48.08,503.2 58.47,501.35 68.86,500.24 79.25,492.1 89.64,485.81 100.03,484.7 110.42,481 115.61,466.2 120.81,457.69" fill="none" stroke="#ffa602" stroke-width="0.9" stroke-linejoin="round" />
<circle cx="48.08" cy="503.2" r="1.85" fill="#ffa602"/>
<circle cx="58.47" cy="501.35" r="1.85" fill="#ffa602"/>
<circle cx="68.86" cy="500.24" r="1.85" fill="#ffa602"/>
<circle cx="79.25" cy="492.1" r="1.85" fill="#ffa602"/>
<circle cx="89.64" cy="485.81" r="1.85" fill="#ffa602"/>
<circle cx="100.03" cy="484.7" r="1.85" fill="#ffa602"/>
<circle cx="110.42" cy="481" r="1.85" fill="#ffa602"/>
<circle cx="115.61" cy="466.2" r="1.85" fill="#ffa602"/>
<circle cx="120.81" cy="457.69" r="1.85" fill="#ffa602"/>
<polyline points="48.08,504.31 58.47,503.2 68.86,501.35 79.25,493.95 89.64,488.03 100.03,487.29 110.42,483.59 115.61,471.75 120.81,460.65" fill="none" stroke="#ffa602" stroke-width="0.9" stroke-linejoin="round" />
<circle cx="48.08" cy="504.31" r="1.85" fill="#ffa602"/>
<circle cx="58.47" cy="503.2" r="1.85" fill="#ffa602"/>
<circle cx="68.86" cy="501.35" r="1.85" fill="#ffa602"/>
<circle cx="79.25" cy="493.95" r="1.85" fill="#ffa602"/>
<circle cx="89.64" cy="488.03" r="1.85" fill="#ffa602"/>
<circle cx="100.03" cy="487.29" r="1.85" fill="#ffa602"/>
<circle cx="110.42" cy="483.59" r="1.85" fill="#ffa602"/>
<circle cx="115.61" cy="471.75" r="1.85" fill="#ffa602"/>
<circle cx="120.81" cy="460.65" r="1.85" fill="#ffa602"/>
<polyline points="48.08,505.05 58.47,504.31 68.86,503.2 79.25,495.8 89.64,490.25 100.03,488.4 110.42,484.7 115.61,473.6 120.81,461.39" fill="none" stroke="#ffa602" stroke-width="0.9" stroke-linejoin="round" />
<circle cx="48.08" cy="505.05" r="1.85" fill="#ffa602"/>
<circle cx="58.47" cy="504.31" r="1.85" fill="#ffa602"/>
<circle cx="68.86" cy="503.2" r="1.85" fill="#ffa602"/>
<circle cx="79.25" cy="495.8" r="1.85" fill="#ffa602"/>
<circle cx="89.64" cy="490.25" r="1.85" fill="#ffa602"/>
<circle cx="100.03" cy="488.4" r="1.85" fill="#ffa602"/>
<circle cx="110.42" cy="484.7" r="1.85" fill="#ffa602"/>
<circle cx="115.61" cy="473.6" r="1.85" fill="#ffa602"/>
<circle cx="120.81" cy="461.39" r="1.85" fill="#ffa602"/>
<polyline points="48.08,505.79 58.47,505.05 68.86,504.31 79.25,493.21 89.64,499.5 100.03,489.51 110.42,485.81 115.61,479.89 120.81,473.23" fill="none" stroke="#ffa602" stroke-width="0.9" stroke-linejoin="round" />
<circle cx="48.08" cy="505.79" r="1.85" fill="#ffa602"/>
<circle cx="58.47" cy="505.05" r="1.85" fill="#ffa602"/>
<circle cx="68.86" cy="504.31" r="1.85" fill="#ffa602"/>
<circle cx="79.25" cy="493.21" r="1.85" fill="#ffa602"/>
<circle cx="89.64" cy="499.5" r="1.85" fill="#ffa602"/>
<circle cx="100.03" cy="489.51" r="1.85" fill="#ffa602"/>
<circle cx="110.42" cy="485.81" r="1.85" fill="#ffa602"/>
<circle cx="115.61" cy="479.89" r="1.85" fill="#ffa602"/>
<circle cx="120.81" cy="473.23" r="1.85" fill="#ffa602"/>
<polyline points="48.08,506.53 58.47,505.79 68.86,505.05 79.25,499.5 89.64,505.05 100.03,496.17 110.42,492.1 115.61,489.51 120.81,473.97" fill="none" stroke="#ffa602" stroke-width="0.9" stroke-linejoin="round" />
<circle cx="48.08" cy="506.53" r="1.85" fill="#ffa602"/>
<circle cx="58.47" cy="505.79" r="1.85" fill="#ffa602"/>
<circle cx="68.86" cy="505.05" r="1.85" fill="#ffa602"/>
<circle cx="79.25" cy="499.5" r="1.85" fill="#ffa602"/>
<circle cx="89.64" cy="505.05" r="1.85" fill="#ffa602"/>
<circle cx="100.03" cy="496.17" r="1.85" fill="#ffa602"/>
<circle cx="110.42" cy="492.1" r="1.85" fill="#ffa602"/>
<circle cx="115.61" cy="489.51" r="1.85" fill="#ffa602"/>
<circle cx="120.81" cy="473.97" r="1.85" fill="#ffa602"/>
<polyline points="48.08,506.9 58.47,506.53 68.86,505.42 79.25,502.46 89.64,505.05 100.03,504.31 110.42,498.39 115.61,500.24 120.81,495.8" fill="none" stroke="#ffa602" stroke-width="0.9" stroke-linejoin="round" />
<circle cx="48.08" cy="506.9" r="1.85" fill="#ffa602"/>
<circle cx="58.47" cy="506.53" r="1.85" fill="#ffa602"/>
<circle cx="68.86" cy="505.42" r="1.85" fill="#ffa602"/>
<circle cx="79.25" cy="502.46" r="1.85" fill="#ffa602"/>
<circle cx="89.64" cy="505.05" r="1.85" fill="#ffa602"/>
<circle cx="100.03" cy="504.31" r="1.85" fill="#ffa602"/>
<circle cx="110.42" cy="498.39" r="1.85" fill="#ffa602"/>
<circle cx="115.61" cy="500.24" r="1.85" fill="#ffa602"/>
<circle cx="120.81" cy="495.8" r="1.85" fill="#ffa602"/>
<text x="48.7" y="432.8" font-size="8.03" textLength="44.45" lengthAdjust="spacingAndGlyphs" text-anchor="start" fill="#111" stroke="#111" stroke-width="0.13" >NKT (mIgG1)</text>
<line x1="159.6" y1="508" x2="159.6" y2="414.5" stroke="#666666" stroke-width="1.25" />
<line x1="159.1" y1="508" x2="252" y2="508" stroke="#666666" stroke-width="1.25" />
<line x1="157.2" y1="508" x2="159.6" y2="508" stroke="#666666" stroke-width="1.12" />
<text x="156.6" y="510.56" font-size="6.85" textLength="3.56" lengthAdjust="spacingAndGlyphs" text-anchor="end" fill="#222" stroke="#222" stroke-width="0.13" >0</text>
<line x1="157.2" y1="489.4" x2="159.6" y2="489.4" stroke="#666666" stroke-width="1.12" />
<text x="156.6" y="491.96" font-size="6.85" textLength="10.68" lengthAdjust="spacingAndGlyphs" text-anchor="end" fill="#222" stroke="#222" stroke-width="0.13" >500</text>
<line x1="157.2" y1="470.8" x2="159.6" y2="470.8" stroke="#666666" stroke-width="1.12" />
<text x="156.6" y="473.36" font-size="6.85" textLength="16.02" lengthAdjust="spacingAndGlyphs" text-anchor="end" fill="#222" stroke="#222" stroke-width="0.13" >1,000</text>
<line x1="157.2" y1="452.2" x2="159.6" y2="452.2" stroke="#666666" stroke-width="1.12" />
<text x="156.6" y="454.76" font-size="6.85" textLength="16.02" lengthAdjust="spacingAndGlyphs" text-anchor="end" fill="#222" stroke="#222" stroke-width="0.13" >1,500</text>
<line x1="157.2" y1="433.6" x2="159.6" y2="433.6" stroke="#666666" stroke-width="1.12" />
<text x="156.6" y="436.16" font-size="6.85" textLength="16.02" lengthAdjust="spacingAndGlyphs" text-anchor="end" fill="#222" stroke="#222" stroke-width="0.13" >2,000</text>
<line x1="157.2" y1="415" x2="159.6" y2="415" stroke="#666666" stroke-width="1.12" />
<text x="156.6" y="417.56" font-size="6.85" textLength="16.02" lengthAdjust="spacingAndGlyphs" text-anchor="end" fill="#222" stroke="#222" stroke-width="0.13" >2,500</text>
<line x1="159.6" y1="508" x2="159.6" y2="510.4" stroke="#666666" stroke-width="1.12" />
<text x="159.6" y="516.3" font-size="6.31" textLength="3.28" lengthAdjust="spacingAndGlyphs" text-anchor="middle" fill="#222" stroke="#222" stroke-width="0.13" >0</text>
<line x1="169.87" y1="508" x2="169.87" y2="510.4" stroke="#666666" stroke-width="1.12" />
<text x="169.87" y="516.3" font-size="6.31" textLength="3.28" lengthAdjust="spacingAndGlyphs" text-anchor="middle" fill="#222" stroke="#222" stroke-width="0.13" >2</text>
<line x1="180.13" y1="508" x2="180.13" y2="510.4" stroke="#666666" stroke-width="1.12" />
<text x="180.13" y="516.3" font-size="6.31" textLength="3.28" lengthAdjust="spacingAndGlyphs" text-anchor="middle" fill="#222" stroke="#222" stroke-width="0.13" >4</text>
<line x1="190.4" y1="508" x2="190.4" y2="510.4" stroke="#666666" stroke-width="1.12" />
<text x="190.4" y="516.3" font-size="6.31" textLength="3.28" lengthAdjust="spacingAndGlyphs" text-anchor="middle" fill="#222" stroke="#222" stroke-width="0.13" >6</text>
<line x1="200.67" y1="508" x2="200.67" y2="510.4" stroke="#666666" stroke-width="1.12" />
<text x="200.67" y="516.3" font-size="6.31" textLength="3.28" lengthAdjust="spacingAndGlyphs" text-anchor="middle" fill="#222" stroke="#222" stroke-width="0.13" >8</text>
<line x1="210.93" y1="508" x2="210.93" y2="510.4" stroke="#666666" stroke-width="1.12" />
<text x="210.93" y="516.3" font-size="6.31" textLength="6.56" lengthAdjust="spacingAndGlyphs" text-anchor="middle" fill="#222" stroke="#222" stroke-width="0.13" >10</text>
<line x1="221.2" y1="508" x2="221.2" y2="510.4" stroke="#666666" stroke-width="1.12" />
<text x="221.2" y="516.3" font-size="6.31" textLength="6.56" lengthAdjust="spacingAndGlyphs" text-anchor="middle" fill="#222" stroke="#222" stroke-width="0.13" >12</text>
<line x1="231.47" y1="508" x2="231.47" y2="510.4" stroke="#666666" stroke-width="1.12" />
<text x="231.47" y="516.3" font-size="6.31" textLength="6.56" lengthAdjust="spacingAndGlyphs" text-anchor="middle" fill="#222" stroke="#222" stroke-width="0.13" >14</text>
<line x1="241.73" y1="508" x2="241.73" y2="510.4" stroke="#666666" stroke-width="1.12" />
<text x="241.73" y="516.3" font-size="6.31" textLength="6.56" lengthAdjust="spacingAndGlyphs" text-anchor="middle" fill="#222" stroke="#222" stroke-width="0.13" >16</text>
<line x1="252" y1="508" x2="252" y2="510.4" stroke="#666666" stroke-width="1.12" />
<text x="252" y="516.3" font-size="6.31" textLength="6.56" lengthAdjust="spacingAndGlyphs" text-anchor="middle" fill="#222" stroke="#222" stroke-width="0.13" >18</text>
<text x="208" y="527.5" font-size="8.99" textLength="14.94" lengthAdjust="spacingAndGlyphs" text-anchor="middle" fill="#111" stroke="#111" stroke-width="0.13" >Day</text>
<polyline points="175,497.96 185.27,498.7 195.53,491.63 205.8,498.7 216.07,496.84 226.33,498.7 236.6,493.86 241.73,490.89 246.87,487.17" fill="none" stroke="#ff2b1f" stroke-width="0.9" stroke-linejoin="round" />
<circle cx="175" cy="497.96" r="1.85" fill="#ff2b1f"/>
<circle cx="185.27" cy="498.7" r="1.85" fill="#ff2b1f"/>
<circle cx="195.53" cy="491.63" r="1.85" fill="#ff2b1f"/>
<circle cx="205.8" cy="498.7" r="1.85" fill="#ff2b1f"/>
<circle cx="216.07" cy="496.84" r="1.85" fill="#ff2b1f"/>
<circle cx="226.33" cy="498.7" r="1.85" fill="#ff2b1f"/>
<circle cx="236.6" cy="493.86" r="1.85" fill="#ff2b1f"/>
<circle cx="241.73" cy="490.89" r="1.85" fill="#ff2b1f"/>
<circle cx="246.87" cy="487.17" r="1.85" fill="#ff2b1f"/>
<polyline points="175,501.3 185.27,504.28 195.53,498.33 205.8,503.54 216.07,501.3 226.33,500.56 236.6,496.84 241.73,493.86 246.87,491.26" fill="none" stroke="#ff2b1f" stroke-width="0.9" stroke-linejoin="round" />
<circle cx="175" cy="501.3" r="1.85" fill="#ff2b1f"/>
<circle cx="185.27" cy="504.28" r="1.85" fill="#ff2b1f"/>
<circle cx="195.53" cy="498.33" r="1.85" fill="#ff2b1f"/>
<circle cx="205.8" cy="503.54" r="1.85" fill="#ff2b1f"/>
<circle cx="216.07" cy="501.3" r="1.85" fill="#ff2b1f"/>
<circle cx="226.33" cy="500.56" r="1.85" fill="#ff2b1f"/>
<circle cx="236.6" cy="496.84" r="1.85" fill="#ff2b1f"/>
<circle cx="241.73" cy="493.86" r="1.85" fill="#ff2b1f"/>
<circle cx="246.87" cy="491.26" r="1.85" fill="#ff2b1f"/>
<polyline points="175,503.54 185.27,505.02 195.53,503.16 205.8,504.65 216.07,502.42 226.33,503.54 236.6,499.82 241.73,496.84 246.87,494.24" fill="none" stroke="#ff2b1f" stroke-width="0.9" stroke-linejoin="round" />
<circle cx="175" cy="503.54" r="1.85" fill="#ff2b1f"/>
<circle cx="185.27" cy="505.02" r="1.85" fill="#ff2b1f"/>
<circle cx="195.53" cy="503.16" r="1.85" fill="#ff2b1f"/>
<circle cx="205.8" cy="504.65" r="1.85" fill="#ff2b1f"/>
<circle cx="216.07" cy="502.42" r="1.85" fill="#ff2b1f"/>
<circle cx="226.33" cy="503.54" r="1.85" fill="#ff2b1f"/>
<circle cx="236.6" cy="499.82" r="1.85" fill="#ff2b1f"/>
<circle cx="241.73" cy="496.84" r="1.85" fill="#ff2b1f"/>
<circle cx="246.87" cy="494.24" r="1.85" fill="#ff2b1f"/>
<polyline points="175,505.02 185.27,505.77 195.53,505.02 205.8,505.77 216.07,505.02 226.33,505.4 236.6,502.42 241.73,499.82 246.87,496.84" fill="none" stroke="#ff2b1f" stroke-width="0.9" stroke-linejoin="round" />
<circle cx="175" cy="505.02" r="1.85" fill="#ff2b1f"/>
<circle cx="185.27" cy="505.77" r="1.85" fill="#ff2b1f"/>
<circle cx="195.53" cy="505.02" r="1.85" fill="#ff2b1f"/>
<circle cx="205.8" cy="505.77" r="1.85" fill="#ff2b1f"/>
<circle cx="216.07" cy="505.02" r="1.85" fill="#ff2b1f"/>
<circle cx="226.33" cy="505.4" r="1.85" fill="#ff2b1f"/>
<circle cx="236.6" cy="502.42" r="1.85" fill="#ff2b1f"/>
<circle cx="241.73" cy="499.82" r="1.85" fill="#ff2b1f"/>
<circle cx="246.87" cy="496.84" r="1.85" fill="#ff2b1f"/>
<polyline points="175,505.77 185.27,506.14 195.53,506.14 205.8,506.14 216.07,506.14 226.33,505.4 236.6,503.54 241.73,502.42 246.87,499.82" fill="none" stroke="#ff2b1f" stroke-width="0.9" stroke-linejoin="round" />
<circle cx="175" cy="505.77" r="1.85" fill="#ff2b1f"/>
<circle cx="185.27" cy="506.14" r="1.85" fill="#ff2b1f"/>
<circle cx="195.53" cy="506.14" r="1.85" fill="#ff2b1f"/>
<circle cx="205.8" cy="506.14" r="1.85" fill="#ff2b1f"/>
<circle cx="216.07" cy="506.14" r="1.85" fill="#ff2b1f"/>
<circle cx="226.33" cy="505.4" r="1.85" fill="#ff2b1f"/>
<circle cx="236.6" cy="503.54" r="1.85" fill="#ff2b1f"/>
<circle cx="241.73" cy="502.42" r="1.85" fill="#ff2b1f"/>
<circle cx="246.87" cy="499.82" r="1.85" fill="#ff2b1f"/>
<text x="175.2" y="432.3" font-size="8.03" textLength="56.41" lengthAdjust="spacingAndGlyphs" text-anchor="start" fill="#111" stroke="#111" stroke-width="0.13" >NKT (6B11 mAb)</text>
<text x="277.2" y="9.8" font-size="14.2" textLength="10.26" lengthAdjust="spacingAndGlyphs" text-anchor="start" fill="#111" stroke="#111" stroke-width="0.1" >D</text>
<defs><radialGradient id="tg" cx="0.45" cy="0.5" r="0.6"><stop offset="0" stop-color="#7a2214"/><stop offset="0.55" stop-color="#8a2c1a"/><stop offset="0.85" stop-color="#983622"/><stop offset="1" stop-color="#ac4c36"/></radialGradient><radialGradient id="tg2" cx="0.45" cy="0.45" r="0.6"><stop offset="0" stop-color="#a03422"/><stop offset="0.5" stop-color="#a83c28"/><stop offset="0.85" stop-color="#ac4230"/><stop offset="1" stop-color="#c05e48"/></radialGradient><linearGradient id="bg" x1="0" y1="0" x2="1" y2="0.2"><stop offset="0" stop-color="#f8f8f8"/><stop offset="0.7" stop-color="#f5f5f5"/><stop offset="1" stop-color="#efefef"/></linearGradient><filter id="blur1" x="-50%" y="-50%" width="200%" height="200%"><feGaussianBlur stdDeviation="0.45"/></filter><filter id="blur2" x="-50%" y="-50%" width="200%" height="200%"><feGaussianBlur stdDeviation="1.2"/></filter></defs>
<rect x="336.3" y="21.1" width="112.9" height="83.9" rx="1.2" fill="url(#bg)"/>
<g filter="url(#blur2)" stroke="#ffffff" stroke-width="1.6" fill="none" opacity="0.95"><path d="M402 28 L448 50"/><path d="M410 46 L448 68"/><path d="M420 70 L447 92"/><path d="M398 60 L432 80"/><path d="M425 30 L447 36"/><path d="M428 52 L446 58"/><path d="M345 26 L360 40"/><path d="M432 24 L446 40"/><path d="M380 78 L420 98"/></g>
<g filter="url(#blur2)" fill="#ffffff" opacity="0.7"><rect x="338" y="22" width="3" height="82"/><rect x="338" y="22.5" width="110" height="2"/></g>
<ellipse cx="347.7" cy="40.9" rx="6.6" ry="5.7" fill="#ffffff" opacity="0.9" filter="url(#blur2)"/>
<path d="M352.01 40.94 Q352.15 42.28 351.38 43.43 Q350.61 44.59 348.98 44.73 Q347.35 44.87 345.76 44.25 Q344.17 43.63 343.40 42.24 Q342.64 40.85 343.36 39.66 Q344.09 38.48 345.31 37.89 Q346.53 37.29 348.22 37.14 Q349.90 36.98 350.88 38.29 Q351.86 39.60 352.01 40.94 Z" fill="url(#tg2)" filter="url(#blur1)"/>
<circle cx="346.37" cy="42.93" r="1.03" fill="#d89080" opacity="0.45" filter="url(#blur1)"/>
<circle cx="349.38" cy="40.8" r="1.15" fill="#d89080" opacity="0.45" filter="url(#blur1)"/>
<circle cx="345.95" cy="41.45" r="1.31" fill="#d89080" opacity="0.45" filter="url(#blur1)"/>
<ellipse cx="370.2" cy="40.4" rx="6.9" ry="5" fill="#ffffff" opacity="0.9" filter="url(#blur2)"/>
<path d="M375.03 39.78 Q375.57 40.94 374.76 41.94 Q373.95 42.93 372.37 43.41 Q370.79 43.89 369.14 43.38 Q367.49 42.86 366.10 41.99 Q364.72 41.11 364.83 39.86 Q364.95 38.61 366.36 37.84 Q367.76 37.08 369.55 37.26 Q371.34 37.45 372.91 38.03 Q374.48 38.62 375.03 39.78 Z" fill="url(#tg)" filter="url(#blur1)"/>
<circle cx="369.29" cy="39.55" r="1.37" fill="#d89080" opacity="0.45" filter="url(#blur1)"/>
<circle cx="372.83" cy="38.85" r="1.3" fill="#d89080" opacity="0.45" filter="url(#blur1)"/>
<circle cx="370.75" cy="40" r="0.9" fill="#d89080" opacity="0.45" filter="url(#blur1)"/>
<ellipse cx="395.4" cy="41.4" rx="6.3" ry="5.6" fill="#ffffff" opacity="0.9" filter="url(#blur2)"/>
<path d="M399.34 40.27 Q400.13 41.40 399.71 42.79 Q399.29 44.18 397.80 44.99 Q396.31 45.81 394.75 45.24 Q393.18 44.67 391.93 43.77 Q390.68 42.86 390.71 41.41 Q390.75 39.96 391.85 38.87 Q392.95 37.79 394.54 37.83 Q396.13 37.86 397.35 38.50 Q398.56 39.15 399.34 40.27 Z" fill="url(#tg2)" filter="url(#blur1)"/>
<circle cx="394.86" cy="42.39" r="0.88" fill="#d89080" opacity="0.45" filter="url(#blur1)"/>
<circle cx="395.41" cy="40.67" r="1.29" fill="#d89080" opacity="0.45" filter="url(#blur1)"/>
<circle cx="397.49" cy="41.01" r="1.4" fill="#d89080" opacity="0.45" filter="url(#blur1)"/>
<ellipse cx="416.4" cy="41.6" rx="6.6" ry="5.5" fill="#ffffff" opacity="0.9" filter="url(#blur2)"/>
<path d="M420.92 41.35 Q421.57 42.65 420.76 43.88 Q419.94 45.10 418.21 45.16 Q416.48 45.21 414.68 44.99 Q412.87 44.78 412.40 43.36 Q411.92 41.94 411.89 40.60 Q411.87 39.26 413.34 38.73 Q414.81 38.20 416.47 37.98 Q418.12 37.77 419.19 38.91 Q420.27 40.06 420.92 41.35 Z" fill="url(#tg)" filter="url(#blur1)"/>
<circle cx="417.43" cy="42.48" r="1.24" fill="#d89080" opacity="0.45" filter="url(#blur1)"/>
<circle cx="416.11" cy="43.03" r="1.39" fill="#d89080" opacity="0.45" filter="url(#blur1)"/>
<circle cx="414.48" cy="41.67" r="1.37" fill="#d89080" opacity="0.45" filter="url(#blur1)"/>
<ellipse cx="439" cy="43" rx="6" ry="5.9" fill="#ffffff" opacity="0.9" filter="url(#blur2)"/>
<path d="M442.45 41.74 Q442.84 43.00 442.44 44.24 Q442.03 45.49 440.89 46.30 Q439.74 47.12 438.22 47.01 Q436.69 46.90 435.97 45.62 Q435.25 44.33 435.27 43.01 Q435.28 41.68 436.12 40.61 Q436.95 39.54 438.38 39.01 Q439.82 38.48 440.94 39.49 Q442.06 40.49 442.45 41.74 Z" fill="url(#tg)" filter="url(#blur1)"/>
<circle cx="440.06" cy="43.7" r="0.8" fill="#d89080" opacity="0.45" filter="url(#blur1)"/>
<circle cx="439.16" cy="42.78" r="0.99" fill="#d89080" opacity="0.45" filter="url(#blur1)"/>
<circle cx="441.18" cy="41.25" r="0.71" fill="#d89080" opacity="0.45" filter="url(#blur1)"/>
<ellipse cx="347" cy="63.3" rx="7.6" ry="6.2" fill="#ffffff" opacity="0.9" filter="url(#blur2)"/>
<path d="M352.49 62.97 Q353.09 64.54 351.97 65.79 Q350.84 67.04 348.99 67.63 Q347.13 68.22 345.41 67.23 Q343.69 66.24 342.28 64.99 Q340.86 63.74 341.41 62.23 Q341.96 60.72 343.37 59.70 Q344.79 58.67 346.77 59.05 Q348.76 59.43 350.32 60.41 Q351.89 61.40 352.49 62.97 Z" fill="url(#tg2)" filter="url(#blur1)"/>
<circle cx="345.6" cy="62.52" r="1.21" fill="#d89080" opacity="0.45" filter="url(#blur1)"/>
<circle cx="346.84" cy="65.43" r="1.11" fill="#d89080" opacity="0.45" filter="url(#blur1)"/>
<circle cx="345.34" cy="63.82" r="1.07" fill="#d89080" opacity="0.45" filter="url(#blur1)"/>
<ellipse cx="372.2" cy="63.5" rx="6.5" ry="5.6" fill="#ffffff" opacity="0.9" filter="url(#blur2)"/>
<path d="M375.49 60.78 Q376.45 61.71 376.55 63.05 Q376.64 64.40 375.46 65.42 Q374.27 66.44 372.80 66.95 Q371.33 67.47 370.12 66.84 Q368.90 66.21 368.47 65.09 Q368.03 63.97 368.42 62.68 Q368.80 61.39 370.16 60.66 Q371.52 59.93 373.03 59.90 Q374.54 59.86 375.49 60.78 Z" fill="url(#tg2)" filter="url(#blur1)"/>
<circle cx="373.39" cy="61.64" r="1.14" fill="#d89080" opacity="0.45" filter="url(#blur1)"/>
<circle cx="370.41" cy="64.68" r="1.22" fill="#d89080" opacity="0.45" filter="url(#blur1)"/>
<circle cx="370.78" cy="64.89" r="1.2" fill="#d89080" opacity="0.45" filter="url(#blur1)"/>
<ellipse cx="394.4" cy="64.6" rx="5.6" ry="5.2" fill="#ffffff" opacity="0.9" filter="url(#blur2)"/>
<path d="M398.38 63.29 Q398.90 64.60 398.00 65.62 Q397.11 66.65 396.12 67.50 Q395.14 68.35 393.77 68.03 Q392.41 67.70 391.31 66.84 Q390.21 65.97 390.47 64.69 Q390.73 63.40 391.46 62.27 Q392.18 61.14 393.61 61.26 Q395.03 61.37 396.45 61.68 Q397.86 61.99 398.38 63.29 Z" fill="url(#tg2)" filter="url(#blur1)"/>
<circle cx="394.05" cy="63.46" r="0.94" fill="#d89080" opacity="0.45" filter="url(#blur1)"/>
<circle cx="394.92" cy="62.92" r="0.97" fill="#d89080" opacity="0.45" filter="url(#blur1)"/>
<circle cx="392.44" cy="63.05" r="0.82" fill="#d89080" opacity="0.45" filter="url(#blur1)"/>
<ellipse cx="416.7" cy="64.8" rx="6.3" ry="5.3" fill="#ffffff" opacity="0.9" filter="url(#blur2)"/>
<path d="M420.94 63.93 Q421.04 65.24 420.73 66.53 Q420.42 67.83 418.81 68.38 Q417.20 68.94 415.79 68.16 Q414.37 67.39 413.07 66.54 Q411.77 65.69 411.98 64.35 Q412.19 63.01 413.39 62.11 Q414.59 61.22 416.16 61.46 Q417.73 61.71 419.29 62.16 Q420.85 62.62 420.94 63.93 Z" fill="url(#tg2)" filter="url(#blur1)"/>
<circle cx="416.13" cy="65.93" r="1.08" fill="#d89080" opacity="0.45" filter="url(#blur1)"/>
<circle cx="417.93" cy="65.65" r="0.94" fill="#d89080" opacity="0.45" filter="url(#blur1)"/>
<circle cx="417.5" cy="66.54" r="1.32" fill="#d89080" opacity="0.45" filter="url(#blur1)"/>
<ellipse cx="440.2" cy="65.1" rx="6.3" ry="5.8" fill="#ffffff" opacity="0.9" filter="url(#blur2)"/>
<path d="M444.29 63.60 Q444.38 65.10 444.06 66.43 Q443.74 67.75 442.35 68.36 Q440.96 68.96 439.42 68.82 Q437.88 68.69 436.97 67.57 Q436.06 66.45 435.72 64.99 Q435.37 63.53 436.59 62.47 Q437.81 61.41 439.44 61.05 Q441.07 60.70 442.63 61.40 Q444.20 62.10 444.29 63.60 Z" fill="url(#tg)" filter="url(#blur1)"/>
<circle cx="440.18" cy="64.97" r="0.79" fill="#d89080" opacity="0.45" filter="url(#blur1)"/>
<circle cx="441.54" cy="63.29" r="0.95" fill="#d89080" opacity="0.45" filter="url(#blur1)"/>
<circle cx="438.64" cy="66.06" r="1.02" fill="#d89080" opacity="0.45" filter="url(#blur1)"/>
<ellipse cx="345.8" cy="89.6" rx="6.2" ry="5.4" fill="#ffffff" opacity="0.9" filter="url(#blur2)"/>
<path d="M349.26 87.78 Q350.05 88.74 349.90 90.02 Q349.74 91.29 348.55 92.23 Q347.35 93.17 345.78 93.21 Q344.22 93.24 342.97 92.51 Q341.73 91.78 341.53 90.48 Q341.32 89.19 342.10 88.00 Q342.88 86.82 344.36 86.44 Q345.84 86.07 347.15 86.44 Q348.47 86.82 349.26 87.78 Z" fill="url(#tg2)" filter="url(#blur1)"/>
<circle cx="344.67" cy="90.66" r="0.72" fill="#d89080" opacity="0.45" filter="url(#blur1)"/>
<circle cx="345.12" cy="89.3" r="1.09" fill="#d89080" opacity="0.45" filter="url(#blur1)"/>
<circle cx="345.49" cy="90.95" r="1.36" fill="#d89080" opacity="0.45" filter="url(#blur1)"/>
<ellipse cx="371.8" cy="88.8" rx="5.5" ry="5.4" fill="#ffffff" opacity="0.9" filter="url(#blur2)"/>
<path d="M375.26 87.47 Q375.47 88.80 375.14 90.03 Q374.82 91.27 373.67 92.01 Q372.51 92.74 371.07 92.61 Q369.62 92.48 368.94 91.27 Q368.26 90.06 368.18 88.77 Q368.10 87.49 369.01 86.55 Q369.91 85.62 371.20 85.31 Q372.49 85.01 373.77 85.57 Q375.05 86.14 375.26 87.47 Z" fill="url(#tg2)" filter="url(#blur1)"/>
<circle cx="373.72" cy="90.43" r="1.36" fill="#d89080" opacity="0.45" filter="url(#blur1)"/>
<circle cx="370.06" cy="87.82" r="1.36" fill="#d89080" opacity="0.45" filter="url(#blur1)"/>
<circle cx="372.05" cy="87.45" r="1.13" fill="#d89080" opacity="0.45" filter="url(#blur1)"/>
<ellipse cx="393.5" cy="88.8" rx="5.3" ry="4.6" fill="#ffffff" opacity="0.9" filter="url(#blur2)"/>
<path d="M396.67 87.78 Q396.86 88.80 396.48 89.69 Q396.11 90.57 395.15 91.29 Q394.20 92.01 392.91 91.72 Q391.63 91.43 390.93 90.60 Q390.22 89.77 390.20 88.79 Q390.17 87.82 390.90 87.00 Q391.63 86.17 392.87 86.08 Q394.11 85.98 395.30 86.37 Q396.49 86.77 396.67 87.78 Z" fill="url(#tg2)" filter="url(#blur1)"/>
<circle cx="392.1" cy="88.39" r="0.89" fill="#d89080" opacity="0.45" filter="url(#blur1)"/>
<circle cx="394.44" cy="89.81" r="1.06" fill="#d89080" opacity="0.45" filter="url(#blur1)"/>
<circle cx="394.95" cy="87.51" r="1.17" fill="#d89080" opacity="0.45" filter="url(#blur1)"/>
<ellipse cx="418.4" cy="87.8" rx="4.6" ry="4.7" fill="#ffffff" opacity="0.9" filter="url(#blur2)"/>
<path d="M421.17 86.72 Q421.44 87.80 420.96 88.70 Q420.47 89.60 419.68 90.14 Q418.89 90.68 417.91 90.56 Q416.93 90.44 416.43 89.58 Q415.94 88.73 415.76 87.73 Q415.58 86.74 416.15 85.77 Q416.72 84.80 417.82 84.80 Q418.91 84.80 419.90 85.22 Q420.90 85.63 421.17 86.72 Z" fill="url(#tg2)" filter="url(#blur1)"/>
<circle cx="419.78" cy="86.31" r="0.71" fill="#d89080" opacity="0.45" filter="url(#blur1)"/>
<circle cx="418.21" cy="89.23" r="1.02" fill="#d89080" opacity="0.45" filter="url(#blur1)"/>
<circle cx="419.29" cy="88.33" r="0.73" fill="#d89080" opacity="0.45" filter="url(#blur1)"/>
<ellipse cx="438.9" cy="87.7" rx="4.9" ry="4.4" fill="#ffffff" opacity="0.9" filter="url(#blur2)"/>
<path d="M441.78 86.85 Q442.27 87.70 441.75 88.53 Q441.23 89.36 440.38 90.07 Q439.54 90.79 438.31 90.59 Q437.07 90.39 436.45 89.52 Q435.83 88.65 435.75 87.68 Q435.67 86.70 436.52 86.08 Q437.37 85.46 438.40 85.30 Q439.43 85.14 440.36 85.57 Q441.29 86.00 441.78 86.85 Z" fill="url(#tg2)" filter="url(#blur1)"/>
<circle cx="439.53" cy="86.89" r="1.38" fill="#d89080" opacity="0.45" filter="url(#blur1)"/>
<circle cx="437.48" cy="86.84" r="0.76" fill="#d89080" opacity="0.45" filter="url(#blur1)"/>
<circle cx="439.79" cy="87.33" r="1.03" fill="#d89080" opacity="0.45" filter="url(#blur1)"/>
<rect x="336.2" y="21.0" width="113" height="84" rx="0.8" fill="none" stroke="#505050" stroke-width="1.5"/>
<text x="328.2" y="43.5" font-size="8.99" textLength="16.81" lengthAdjust="spacingAndGlyphs" text-anchor="end" fill="#111" stroke="#111" stroke-width="0.13" >PBS</text>
<text x="328.2" y="64.7" font-size="8.99" textLength="49.79" lengthAdjust="spacingAndGlyphs" text-anchor="end" fill="#111" stroke="#111" stroke-width="0.13" >NKT (mIgG1)</text>
<text x="328.2" y="85.8" font-size="8.99" textLength="63.18" lengthAdjust="spacingAndGlyphs" text-anchor="end" fill="#111" stroke="#111" stroke-width="0.13" >NKT (6B11 mAb)</text>
<line x1="335.2" y1="245.3" x2="335.2" y2="125" stroke="#666666" stroke-width="1.1" />
<line x1="334.7" y1="245.3" x2="456" y2="245.3" stroke="#666666" stroke-width="1.1" />
<line x1="332.8" y1="245.3" x2="335.2" y2="245.3" stroke="#666666" stroke-width="1" />
<text x="332.8" y="247.5" font-size="6.74" textLength="3.5" lengthAdjust="spacingAndGlyphs" text-anchor="end" fill="#222" stroke="#222" stroke-width="0.13" >0</text>
<line x1="332.8" y1="221.36" x2="335.2" y2="221.36" stroke="#666666" stroke-width="1" />
<text x="332.8" y="223.56" font-size="6.74" textLength="10.51" lengthAdjust="spacingAndGlyphs" text-anchor="end" fill="#222" stroke="#222" stroke-width="0.13" >200</text>
<line x1="332.8" y1="197.42" x2="335.2" y2="197.42" stroke="#666666" stroke-width="1" />
<text x="332.8" y="199.62" font-size="6.74" textLength="10.51" lengthAdjust="spacingAndGlyphs" text-anchor="end" fill="#222" stroke="#222" stroke-width="0.13" >400</text>
<line x1="332.8" y1="173.48" x2="335.2" y2="173.48" stroke="#666666" stroke-width="1" />
<text x="332.8" y="175.68" font-size="6.74" textLength="10.51" lengthAdjust="spacingAndGlyphs" text-anchor="end" fill="#222" stroke="#222" stroke-width="0.13" >600</text>
<line x1="332.8" y1="149.54" x2="335.2" y2="149.54" stroke="#666666" stroke-width="1" />
<text x="332.8" y="151.74" font-size="6.74" textLength="10.51" lengthAdjust="spacingAndGlyphs" text-anchor="end" fill="#222" stroke="#222" stroke-width="0.13" >800</text>
<line x1="332.8" y1="125.6" x2="335.2" y2="125.6" stroke="#666666" stroke-width="1" />
<text x="332.8" y="127.8" font-size="6.74" textLength="15.77" lengthAdjust="spacingAndGlyphs" text-anchor="end" fill="#222" stroke="#222" stroke-width="0.13" >1,000</text>
<line x1="359.6" y1="245.3" x2="359.6" y2="247.6" stroke="#666666" stroke-width="1" />
<line x1="395.8" y1="245.3" x2="395.8" y2="247.6" stroke="#666666" stroke-width="1" />
<line x1="431.9" y1="245.3" x2="431.9" y2="247.6" stroke="#666666" stroke-width="1" />
<text x="0" y="0" font-size="8.1" text-anchor="middle" fill="#111" stroke="#111" stroke-width="0.2" transform="translate(317.2,180.7) rotate(-90) scale(1,1.1)">Tumor weight (mg)</text>
<text x="350.2" y="257.1" font-size="8.88" textLength="16.61" lengthAdjust="spacingAndGlyphs" text-anchor="start" fill="#111" stroke="#111" stroke-width="0.13" >PBS</text>
<text x="385.8" y="257.1" font-size="8.88" textLength="16.6" lengthAdjust="spacingAndGlyphs" text-anchor="start" fill="#111" stroke="#111" stroke-width="0.13" >NKT</text>
<text x="385.8" y="266.5" font-size="8.88" textLength="30.44" lengthAdjust="spacingAndGlyphs" text-anchor="start" fill="#111" stroke="#111" stroke-width="0.13" >(mIgG1)</text>
<text x="424.8" y="257.1" font-size="8.88" textLength="16.6" lengthAdjust="spacingAndGlyphs" text-anchor="start" fill="#111" stroke="#111" stroke-width="0.13" >NKT</text>
<text x="424.8" y="266.5" font-size="8.88" textLength="43.67" lengthAdjust="spacingAndGlyphs" text-anchor="start" fill="#111" stroke="#111" stroke-width="0.13" >(6B11 mAb)</text>
<line x1="347.7" y1="186.89" x2="371.7" y2="186.89" stroke="#1434fa" stroke-width="1" />
<line x1="359.7" y1="180.42" x2="359.7" y2="193.59" stroke="#1434fa" stroke-width="1" />
<line x1="353.5" y1="180.42" x2="365.9" y2="180.42" stroke="#1434fa" stroke-width="1" />
<line x1="353.5" y1="193.59" x2="365.9" y2="193.59" stroke="#1434fa" stroke-width="1" />
<circle cx="359.7" cy="160.07" r="1.75" fill="#1434fa"/>
<circle cx="359.7" cy="190.24" r="1.75" fill="#1434fa"/>
<circle cx="354.7" cy="194.55" r="1.75" fill="#1434fa"/>
<circle cx="359.7" cy="195.98" r="1.75" fill="#1434fa"/>
<circle cx="364.7" cy="194.55" r="1.75" fill="#1434fa"/>
<line x1="383.8" y1="186.53" x2="407.8" y2="186.53" stroke="#ffa602" stroke-width="1" />
<line x1="395.8" y1="175.51" x2="395.8" y2="197.66" stroke="#ffa602" stroke-width="1" />
<line x1="389.6" y1="175.51" x2="402" y2="175.51" stroke="#ffa602" stroke-width="1" />
<line x1="389.6" y1="197.66" x2="402" y2="197.66" stroke="#ffa602" stroke-width="1" />
<rect x="394.2" y="142.55" width="3.2" height="3.2" fill="#ffa602"/>
<rect x="394.2" y="186.84" width="3.2" height="3.2" fill="#ffa602"/>
<rect x="391.7" y="196.06" width="3.2" height="3.2" fill="#ffa602"/>
<rect x="396.7" y="196.06" width="3.2" height="3.2" fill="#ffa602"/>
<rect x="394.2" y="202.64" width="3.2" height="3.2" fill="#ffa602"/>
<line x1="419.9" y1="221.36" x2="443.9" y2="221.36" stroke="#ff2b1f" stroke-width="1" />
<line x1="431.9" y1="216.21" x2="431.9" y2="226.63" stroke="#ff2b1f" stroke-width="1" />
<line x1="425.7" y1="216.21" x2="438.1" y2="216.21" stroke="#ff2b1f" stroke-width="1" />
<line x1="425.7" y1="226.63" x2="438.1" y2="226.63" stroke="#ff2b1f" stroke-width="1" />
<polygon points="431.9,204.6 429.74,208.38 434.06,208.38" fill="#ff2b1f" />
<polygon points="429.4,215.61 427.24,219.39 431.56,219.39" fill="#ff2b1f" />
<polygon points="434.4,215.61 432.24,219.39 436.56,219.39" fill="#ff2b1f" />
<polygon points="431.9,228.18 429.74,231.96 434.06,231.96" fill="#ff2b1f" />
<polygon points="431.9,233.56 429.74,237.34 434.06,237.34" fill="#ff2b1f" />
<line x1="359.6" y1="126.2" x2="431.9" y2="126.2" stroke="#222" stroke-width="1.1" />
<line x1="396" y1="138.7" x2="431.9" y2="138.7" stroke="#222" stroke-width="1.1" />
<polygon points="395.8,119.2 396.39,120.39 397.7,120.58 396.75,121.51 396.98,122.82 395.8,122.2 394.62,122.82 394.85,121.51 393.9,120.58 395.21,120.39" fill="#111" />
<polygon points="414.1,132.2 414.69,133.39 416,133.58 415.05,134.51 415.28,135.82 414.1,135.2 412.92,135.82 413.15,134.51 412.2,133.58 413.51,133.39" fill="#111" />
<text x="291.3" y="282.7" font-size="14.2" textLength="9.47" lengthAdjust="spacingAndGlyphs" text-anchor="start" fill="#111" stroke="#111" stroke-width="0.1" >E</text>
<text x="324.9" y="297.3" font-size="8.77" textLength="52.87" lengthAdjust="spacingAndGlyphs" text-anchor="start" fill="#111" stroke="#111" stroke-width="0.13" >K562 cells s.c.</text>
<line x1="335" y1="300.9" x2="335" y2="310.7" stroke="#1a1a1a" stroke-width="1.1" />
<polyline points="331.4,305.8 335,311 338.6,305.8" fill="none" stroke="#1a1a1a" stroke-width="1.1" stroke-linejoin="round" />
<line x1="335" y1="313.3" x2="516.7" y2="313.3" stroke="#707070" stroke-width="1.3" />
<polyline points="509.9,309.5 517.5,313.3 509.9,317.1" fill="none" stroke="#707070" stroke-width="1.3" stroke-linejoin="round" />
<text x="316.4" y="323" font-size="8.77" textLength="14.58" lengthAdjust="spacingAndGlyphs" text-anchor="start" fill="#111" stroke="#111" stroke-width="0.13" >Day</text>
<text x="337.2" y="323" font-size="8.77" textLength="4.56" lengthAdjust="spacingAndGlyphs" text-anchor="middle" fill="#111" stroke="#111" stroke-width="0.13" >0</text>
<text x="361.9" y="323" font-size="8.77" textLength="4.56" lengthAdjust="spacingAndGlyphs" text-anchor="middle" fill="#111" stroke="#111" stroke-width="0.13" >3</text>
<text x="381.4" y="323" font-size="8.77" textLength="4.56" lengthAdjust="spacingAndGlyphs" text-anchor="middle" fill="#111" stroke="#111" stroke-width="0.13" >5</text>
<text x="397.9" y="323" font-size="8.77" textLength="4.56" lengthAdjust="spacingAndGlyphs" text-anchor="middle" fill="#111" stroke="#111" stroke-width="0.13" >7</text>
<text x="418.3" y="323" font-size="8.77" textLength="4.56" lengthAdjust="spacingAndGlyphs" text-anchor="middle" fill="#111" stroke="#111" stroke-width="0.13" >9</text>
<text x="505.5" y="323" font-size="8.77" textLength="9.12" lengthAdjust="spacingAndGlyphs" text-anchor="middle" fill="#111" stroke="#111" stroke-width="0.13" >17</text>
<line x1="361.9" y1="326.6" x2="361.9" y2="336" stroke="#ff1414" stroke-width="1.15" />
<polyline points="358.35,331.1 361.9,326.3 365.45,331.1" fill="none" stroke="#ff1414" stroke-width="1.15" stroke-linejoin="round" />
<line x1="381.4" y1="326.6" x2="381.4" y2="336" stroke="#ff1414" stroke-width="1.15" />
<polyline points="377.85,331.1 381.4,326.3 384.95,331.1" fill="none" stroke="#ff1414" stroke-width="1.15" stroke-linejoin="round" />
<line x1="397.9" y1="326.6" x2="397.9" y2="336" stroke="#ff1414" stroke-width="1.15" />
<polyline points="394.35,331.1 397.9,326.3 401.45,331.1" fill="none" stroke="#ff1414" stroke-width="1.15" stroke-linejoin="round" />
<line x1="418.3" y1="326.6" x2="418.3" y2="336" stroke="#ff1414" stroke-width="1.15" />
<polyline points="414.75,331.1 418.3,326.3 421.85,331.1" fill="none" stroke="#ff1414" stroke-width="1.15" stroke-linejoin="round" />
<text x="308.6" y="344.9" font-size="8.95" textLength="193.89" lengthAdjust="spacingAndGlyphs" text-anchor="start" fill="#111" stroke="#111" stroke-width="0.13" >PBS i.t., NKT (6B11 mAb) i.t, or NKT (6B11 mAb) i.v.</text>
<text x="291" y="377.9" font-size="14.2" textLength="8.67" lengthAdjust="spacingAndGlyphs" text-anchor="start" fill="#111" stroke="#111" stroke-width="0.1" >F</text>
<line x1="335.2" y1="515.6" x2="335.2" y2="376.3" stroke="#666666" stroke-width="1.1" />
<line x1="334.7" y1="515.6" x2="475.8" y2="515.6" stroke="#666666" stroke-width="1.1" />
<line x1="332.2" y1="515.6" x2="335.2" y2="515.6" stroke="#666666" stroke-width="0.99" />
<text x="331.9" y="518.4" font-size="7.49" textLength="3.89" lengthAdjust="spacingAndGlyphs" text-anchor="end" fill="#222" stroke="#222" stroke-width="0.13" >0</text>
<line x1="332.2" y1="480.9" x2="335.2" y2="480.9" stroke="#666666" stroke-width="0.99" />
<text x="331.9" y="483.7" font-size="7.49" textLength="11.68" lengthAdjust="spacingAndGlyphs" text-anchor="end" fill="#222" stroke="#222" stroke-width="0.13" >500</text>
<line x1="332.2" y1="446.2" x2="335.2" y2="446.2" stroke="#666666" stroke-width="0.99" />
<text x="331.9" y="449" font-size="7.49" textLength="17.52" lengthAdjust="spacingAndGlyphs" text-anchor="end" fill="#222" stroke="#222" stroke-width="0.13" >1,000</text>
<line x1="332.2" y1="411.5" x2="335.2" y2="411.5" stroke="#666666" stroke-width="0.99" />
<text x="331.9" y="414.3" font-size="7.49" textLength="17.52" lengthAdjust="spacingAndGlyphs" text-anchor="end" fill="#222" stroke="#222" stroke-width="0.13" >1,500</text>
<line x1="332.2" y1="376.8" x2="335.2" y2="376.8" stroke="#666666" stroke-width="0.99" />
<text x="331.9" y="379.6" font-size="7.49" textLength="17.52" lengthAdjust="spacingAndGlyphs" text-anchor="end" fill="#222" stroke="#222" stroke-width="0.13" >2,000</text>
<line x1="335.2" y1="515.6" x2="335.2" y2="518.6" stroke="#666666" stroke-width="0.99" />
<text x="335.2" y="525.7" font-size="7.38" textLength="3.84" lengthAdjust="spacingAndGlyphs" text-anchor="middle" fill="#222" stroke="#222" stroke-width="0.13" >0</text>
<line x1="350.82" y1="515.6" x2="350.82" y2="518.6" stroke="#666666" stroke-width="0.99" />
<text x="350.82" y="525.7" font-size="7.38" textLength="3.84" lengthAdjust="spacingAndGlyphs" text-anchor="middle" fill="#222" stroke="#222" stroke-width="0.13" >2</text>
<line x1="366.44" y1="515.6" x2="366.44" y2="518.6" stroke="#666666" stroke-width="0.99" />
<text x="366.44" y="525.7" font-size="7.38" textLength="3.84" lengthAdjust="spacingAndGlyphs" text-anchor="middle" fill="#222" stroke="#222" stroke-width="0.13" >4</text>
<line x1="382.07" y1="515.6" x2="382.07" y2="518.6" stroke="#666666" stroke-width="0.99" />
<text x="382.07" y="525.7" font-size="7.38" textLength="3.84" lengthAdjust="spacingAndGlyphs" text-anchor="middle" fill="#222" stroke="#222" stroke-width="0.13" >6</text>
<line x1="397.69" y1="515.6" x2="397.69" y2="518.6" stroke="#666666" stroke-width="0.99" />
<text x="397.69" y="525.7" font-size="7.38" textLength="3.84" lengthAdjust="spacingAndGlyphs" text-anchor="middle" fill="#222" stroke="#222" stroke-width="0.13" >8</text>
<line x1="413.31" y1="515.6" x2="413.31" y2="518.6" stroke="#666666" stroke-width="0.99" />
<text x="413.31" y="525.7" font-size="7.38" textLength="7.68" lengthAdjust="spacingAndGlyphs" text-anchor="middle" fill="#222" stroke="#222" stroke-width="0.13" >10</text>
<line x1="428.93" y1="515.6" x2="428.93" y2="518.6" stroke="#666666" stroke-width="0.99" />
<text x="428.93" y="525.7" font-size="7.38" textLength="7.68" lengthAdjust="spacingAndGlyphs" text-anchor="middle" fill="#222" stroke="#222" stroke-width="0.13" >12</text>
<line x1="444.56" y1="515.6" x2="444.56" y2="518.6" stroke="#666666" stroke-width="0.99" />
<text x="444.56" y="525.7" font-size="7.38" textLength="7.68" lengthAdjust="spacingAndGlyphs" text-anchor="middle" fill="#222" stroke="#222" stroke-width="0.13" >14</text>
<line x1="460.18" y1="515.6" x2="460.18" y2="518.6" stroke="#666666" stroke-width="0.99" />
<text x="460.18" y="525.7" font-size="7.38" textLength="7.68" lengthAdjust="spacingAndGlyphs" text-anchor="middle" fill="#222" stroke="#222" stroke-width="0.13" >16</text>
<line x1="475.8" y1="515.6" x2="475.8" y2="518.6" stroke="#666666" stroke-width="0.99" />
<text x="475.8" y="525.7" font-size="7.38" textLength="7.68" lengthAdjust="spacingAndGlyphs" text-anchor="middle" fill="#222" stroke="#222" stroke-width="0.13" >18</text>
<text x="407.2" y="536.3" font-size="8.99" textLength="14.94" lengthAdjust="spacingAndGlyphs" text-anchor="middle" fill="#111" stroke="#111" stroke-width="0.13" >Day</text>
<text x="0" y="0" font-size="8.1" text-anchor="middle" fill="#1a1a1a" stroke="#1a1a1a" stroke-width="0.2" transform="translate(310.4,447.6) rotate(-90) scale(1,1.1)">Tumor volume (mm<tspan font-size="4.7" dy="-2.6" stroke-width="0.1">3</tspan><tspan dy="2.6">)</tspan></text>
<line x1="421.12" y1="493.11" x2="421.12" y2="487.84" stroke="#ffa602" stroke-width="1.15" opacity="0.8"/>
<line x1="419.12" y1="487.84" x2="423.12" y2="487.84" stroke="#ffa602" stroke-width="1.15" opacity="0.8"/>
<line x1="436.74" y1="487.22" x2="436.74" y2="477.29" stroke="#ffa602" stroke-width="1.15" opacity="0.8"/>
<line x1="434.74" y1="477.29" x2="438.74" y2="477.29" stroke="#ffa602" stroke-width="1.15" opacity="0.8"/>
<line x1="452.37" y1="481.87" x2="452.37" y2="472.02" stroke="#ffa602" stroke-width="1.15" opacity="0.8"/>
<line x1="450.37" y1="472.02" x2="454.37" y2="472.02" stroke="#ffa602" stroke-width="1.15" opacity="0.8"/>
<line x1="467.99" y1="464.73" x2="467.99" y2="449.11" stroke="#ffa602" stroke-width="1.15" opacity="0.8"/>
<line x1="465.99" y1="449.11" x2="469.99" y2="449.11" stroke="#ffa602" stroke-width="1.15" opacity="0.8"/>
<polyline points="358.63,502.28 374.26,504.5 389.88,503.46 405.5,501.03 421.12,493.11 436.74,487.22 452.37,481.87 467.99,464.73" fill="none" stroke="#ffa602" stroke-width="1.1" stroke-linejoin="round" opacity="0.82"/>
<polygon points="358.63,499.76 356.11,504.17 361.15,504.17" fill="#ffa602" />
<polygon points="374.26,501.98 371.74,506.39 376.78,506.39" fill="#ffa602" />
<polygon points="389.88,500.94 387.36,505.35 392.4,505.35" fill="#ffa602" />
<polygon points="405.5,498.51 402.98,502.92 408.02,502.92" fill="#ffa602" />
<polygon points="421.12,490.59 418.6,495 423.64,495" fill="#ffa602" />
<polygon points="436.74,484.7 434.22,489.11 439.26,489.11" fill="#ffa602" />
<polygon points="452.37,479.35 449.85,483.76 454.89,483.76" fill="#ffa602" />
<polygon points="467.99,462.21 465.47,466.62 470.51,466.62" fill="#ffa602" />
<line x1="436.74" y1="497.21" x2="436.74" y2="494.57" stroke="#ff2b1f" stroke-width="1.15" opacity="0.8"/>
<line x1="434.74" y1="494.57" x2="438.74" y2="494.57" stroke="#ff2b1f" stroke-width="1.15" opacity="0.8"/>
<line x1="452.37" y1="495.68" x2="452.37" y2="491.38" stroke="#ff2b1f" stroke-width="1.15" opacity="0.8"/>
<line x1="450.37" y1="491.38" x2="454.37" y2="491.38" stroke="#ff2b1f" stroke-width="1.15" opacity="0.8"/>
<line x1="467.99" y1="485.76" x2="467.99" y2="478.12" stroke="#ff2b1f" stroke-width="1.15" opacity="0.8"/>
<line x1="465.99" y1="478.12" x2="469.99" y2="478.12" stroke="#ff2b1f" stroke-width="1.15" opacity="0.8"/>
<polyline points="358.63,502.28 374.26,505.4 389.88,504.01 405.5,501.58 421.12,500.47 436.74,497.21 452.37,495.68 467.99,485.76" fill="none" stroke="#ff2b1f" stroke-width="1.1" stroke-linejoin="round" opacity="0.82"/>
<rect x="356.53" y="500.18" width="4.2" height="4.2" fill="#ff2b1f"/>
<rect x="372.16" y="503.3" width="4.2" height="4.2" fill="#ff2b1f"/>
<rect x="387.78" y="501.91" width="4.2" height="4.2" fill="#ff2b1f"/>
<rect x="403.4" y="499.48" width="4.2" height="4.2" fill="#ff2b1f"/>
<rect x="419.02" y="498.37" width="4.2" height="4.2" fill="#ff2b1f"/>
<rect x="434.64" y="495.11" width="4.2" height="4.2" fill="#ff2b1f"/>
<rect x="450.27" y="493.58" width="4.2" height="4.2" fill="#ff2b1f"/>
<rect x="465.89" y="483.66" width="4.2" height="4.2" fill="#ff2b1f"/>
<line x1="421.12" y1="463.48" x2="421.12" y2="460.77" stroke="#1434fa" stroke-width="1.15" opacity="0.8"/>
<line x1="419.12" y1="460.77" x2="423.12" y2="460.77" stroke="#1434fa" stroke-width="1.15" opacity="0.8"/>
<line x1="436.74" y1="451.89" x2="436.74" y2="447.03" stroke="#1434fa" stroke-width="1.15" opacity="0.8"/>
<line x1="434.74" y1="447.03" x2="438.74" y2="447.03" stroke="#1434fa" stroke-width="1.15" opacity="0.8"/>
<line x1="452.37" y1="427.6" x2="452.37" y2="423.71" stroke="#1434fa" stroke-width="1.15" opacity="0.8"/>
<line x1="450.37" y1="423.71" x2="454.37" y2="423.71" stroke="#1434fa" stroke-width="1.15" opacity="0.8"/>
<line x1="467.99" y1="421.22" x2="467.99" y2="416.77" stroke="#1434fa" stroke-width="1.15" opacity="0.8"/>
<line x1="465.99" y1="416.77" x2="469.99" y2="416.77" stroke="#1434fa" stroke-width="1.15" opacity="0.8"/>
<polyline points="358.63,502.28 374.26,497.97 389.88,486.38 405.5,480.9 421.12,463.48 436.74,451.89 452.37,427.6 467.99,421.22" fill="none" stroke="#1434fa" stroke-width="1.1" stroke-linejoin="round" opacity="0.82"/>
<circle cx="358.63" cy="502.28" r="2.1" fill="#1434fa"/>
<circle cx="374.26" cy="497.97" r="2.1" fill="#1434fa"/>
<circle cx="389.88" cy="486.38" r="2.1" fill="#1434fa"/>
<circle cx="405.5" cy="480.9" r="2.1" fill="#1434fa"/>
<circle cx="421.12" cy="463.48" r="2.1" fill="#1434fa"/>
<circle cx="436.74" cy="451.89" r="2.1" fill="#1434fa"/>
<circle cx="452.37" cy="427.6" r="2.1" fill="#1434fa"/>
<circle cx="467.99" cy="421.22" r="2.1" fill="#1434fa"/>
<line x1="344" y1="396" x2="354.5" y2="396" stroke="#1434fa" stroke-width="1" opacity="0.75"/>
<circle cx="349.25" cy="396" r="1.95" fill="#1434fa"/>
<text x="359.8" y="398.6" font-size="7.93" textLength="14.83" lengthAdjust="spacingAndGlyphs" text-anchor="start" fill="#111" stroke="#111" stroke-width="0.13" >PBS</text>
<line x1="344" y1="408.7" x2="354.5" y2="408.7" stroke="#ff2b1f" stroke-width="1" opacity="0.75"/>
<rect x="347.3" y="406.75" width="3.9" height="3.9" fill="#ff2b1f"/>
<text x="359.8" y="411.3" font-size="7.93" textLength="63.69" lengthAdjust="spacingAndGlyphs" text-anchor="start" fill="#111" stroke="#111" stroke-width="0.13" >NKT(6B11 mAb) i.t.</text>
<line x1="344" y1="421.4" x2="354.5" y2="421.4" stroke="#ffa602" stroke-width="1" opacity="0.75"/>
<polygon points="349.25,419.06 346.91,423.15 351.59,423.15" fill="#ffa602" />
<text x="359.8" y="424" font-size="7.93" textLength="64.79" lengthAdjust="spacingAndGlyphs" text-anchor="start" fill="#111" stroke="#111" stroke-width="0.13" >NKT(6B11 mAb) i.v.</text>
<polyline points="475.7,421.4 479.3,421.4 479.3,465.1 475.7,465.1" fill="none" stroke="#6a6a6a" stroke-width="0.95" stroke-linejoin="round" />
<polygon points="482.8,437.9 483.33,438.97 484.51,439.14 483.66,439.98 483.86,441.16 482.8,440.6 481.74,441.16 481.94,439.98 481.09,439.14 482.27,438.97" fill="#111" />
<polygon points="486.3,437.9 486.83,438.97 488.01,439.14 487.16,439.98 487.36,441.16 486.3,440.6 485.24,441.16 485.44,439.98 484.59,439.14 485.77,438.97" fill="#111" />
<polygon points="489.8,437.9 490.33,438.97 491.51,439.14 490.66,439.98 490.86,441.16 489.8,440.6 488.74,441.16 488.94,439.98 488.09,439.14 489.27,438.97" fill="#111" />
<polyline points="489.2,421.4 492.3,421.4 492.3,486 489.2,486" fill="none" stroke="#6a6a6a" stroke-width="0.95" stroke-linejoin="round" />
<polygon points="497.2,447.2 497.73,448.27 498.91,448.44 498.06,449.28 498.26,450.46 497.2,449.9 496.14,450.46 496.34,449.28 495.49,448.44 496.67,448.27" fill="#111" />
<polygon points="500.93,447.2 501.46,448.27 502.64,448.44 501.79,449.28 501.99,450.46 500.93,449.9 499.87,450.46 500.07,449.28 499.22,448.44 500.4,448.27" fill="#111" />
<polygon points="504.66,447.2 505.19,448.27 506.37,448.44 505.52,449.28 505.72,450.46 504.66,449.9 503.6,450.46 503.8,449.28 502.95,448.44 504.13,448.27" fill="#111" />
<polygon points="508.39,447.2 508.92,448.27 510.1,448.44 509.25,449.28 509.45,450.46 508.39,449.9 507.33,450.46 507.53,449.28 506.68,448.44 507.86,448.27" fill="#111" />
<text x="4" y="562.9" font-size="14.2" textLength="11.04" lengthAdjust="spacingAndGlyphs" text-anchor="start" fill="#111" stroke="#111" stroke-width="0.1" >G</text>
<text x="51.2" y="578" font-size="8.77" textLength="12.76" lengthAdjust="spacingAndGlyphs" text-anchor="start" fill="#111" stroke="#111" stroke-width="0.13" >s.c.</text>
<text x="51.2" y="588.6" font-size="8.77" textLength="37.83" lengthAdjust="spacingAndGlyphs" text-anchor="start" fill="#111" stroke="#111" stroke-width="0.13" >K562 cells</text>
<line x1="62.3" y1="592.8" x2="62.3" y2="602.8" stroke="#1a1a1a" stroke-width="1.1" />
<polyline points="58.7,597.9 62.3,603.1 65.9,597.9" fill="none" stroke="#1a1a1a" stroke-width="1.1" stroke-linejoin="round" />
<line x1="61.7" y1="605.5" x2="245.45" y2="605.5" stroke="#707070" stroke-width="1.3" />
<polyline points="238.65,601.7 246.25,605.5 238.65,609.3" fill="none" stroke="#707070" stroke-width="1.3" stroke-linejoin="round" />
<text x="42.3" y="615.4" font-size="8.77" textLength="14.58" lengthAdjust="spacingAndGlyphs" text-anchor="start" fill="#111" stroke="#111" stroke-width="0.13" >Day</text>
<text x="62.8" y="615.4" font-size="8.77" textLength="4.56" lengthAdjust="spacingAndGlyphs" text-anchor="middle" fill="#111" stroke="#111" stroke-width="0.13" >0</text>
<text x="88.2" y="615.4" font-size="8.77" textLength="4.56" lengthAdjust="spacingAndGlyphs" text-anchor="middle" fill="#111" stroke="#111" stroke-width="0.13" >3</text>
<text x="107.8" y="615.4" font-size="8.77" textLength="4.56" lengthAdjust="spacingAndGlyphs" text-anchor="middle" fill="#111" stroke="#111" stroke-width="0.13" >5</text>
<text x="124.8" y="615.4" font-size="8.77" textLength="4.56" lengthAdjust="spacingAndGlyphs" text-anchor="middle" fill="#111" stroke="#111" stroke-width="0.13" >7</text>
<text x="145.5" y="615.4" font-size="8.77" textLength="4.56" lengthAdjust="spacingAndGlyphs" text-anchor="middle" fill="#111" stroke="#111" stroke-width="0.13" >9</text>
<text x="231.6" y="615.4" font-size="8.77" textLength="9.12" lengthAdjust="spacingAndGlyphs" text-anchor="middle" fill="#111" stroke="#111" stroke-width="0.13" >17</text>
<line x1="88.2" y1="618.9" x2="88.2" y2="628.8" stroke="#ff1414" stroke-width="1.15" />
<polyline points="84.65,623.4 88.2,618.6 91.75,623.4" fill="none" stroke="#ff1414" stroke-width="1.15" stroke-linejoin="round" />
<line x1="107.8" y1="618.9" x2="107.8" y2="628.8" stroke="#ff1414" stroke-width="1.15" />
<polyline points="104.25,623.4 107.8,618.6 111.35,623.4" fill="none" stroke="#ff1414" stroke-width="1.15" stroke-linejoin="round" />
<line x1="124.8" y1="618.9" x2="124.8" y2="628.8" stroke="#ff1414" stroke-width="1.15" />
<polyline points="121.25,623.4 124.8,618.6 128.35,623.4" fill="none" stroke="#ff1414" stroke-width="1.15" stroke-linejoin="round" />
<line x1="145.5" y1="618.9" x2="145.5" y2="628.8" stroke="#ff1414" stroke-width="1.15" />
<polyline points="141.95,623.4 145.5,618.6 149.05,623.4" fill="none" stroke="#ff1414" stroke-width="1.15" stroke-linejoin="round" />
<text x="76.5" y="637.4" font-size="8.88" textLength="113.16" lengthAdjust="spacingAndGlyphs" text-anchor="start" fill="#111" stroke="#111" stroke-width="0.13" >PBS i.t. or NKT (6B11 mAb) i.t.</text>
<text x="51.2" y="651.6" font-size="8.77" textLength="12.76" lengthAdjust="spacingAndGlyphs" text-anchor="start" fill="#111" stroke="#111" stroke-width="0.13" >s.c.</text>
<text x="51.2" y="662.6" font-size="8.77" textLength="37.83" lengthAdjust="spacingAndGlyphs" text-anchor="start" fill="#111" stroke="#111" stroke-width="0.13" >K562 cells</text>
<line x1="62.3" y1="666.4" x2="62.3" y2="676.5" stroke="#1a1a1a" stroke-width="1.1" />
<polyline points="58.7,671.6 62.3,676.8 65.9,671.6" fill="none" stroke="#1a1a1a" stroke-width="1.1" stroke-linejoin="round" />
<line x1="61.7" y1="679.3" x2="245.45" y2="679.3" stroke="#707070" stroke-width="1.3" />
<polyline points="238.65,675.5 246.25,679.3 238.65,683.1" fill="none" stroke="#707070" stroke-width="1.3" stroke-linejoin="round" />
<text x="42.3" y="688.7" font-size="8.77" textLength="14.58" lengthAdjust="spacingAndGlyphs" text-anchor="start" fill="#111" stroke="#111" stroke-width="0.13" >Day</text>
<text x="62.8" y="688.7" font-size="8.77" textLength="4.56" lengthAdjust="spacingAndGlyphs" text-anchor="middle" fill="#111" stroke="#111" stroke-width="0.13" >0</text>
<text x="88.2" y="688.7" font-size="8.77" textLength="4.56" lengthAdjust="spacingAndGlyphs" text-anchor="middle" fill="#111" stroke="#111" stroke-width="0.13" >3</text>
<text x="107.8" y="688.7" font-size="8.77" textLength="4.56" lengthAdjust="spacingAndGlyphs" text-anchor="middle" fill="#111" stroke="#111" stroke-width="0.13" >5</text>
<text x="124.8" y="688.7" font-size="8.77" textLength="4.56" lengthAdjust="spacingAndGlyphs" text-anchor="middle" fill="#111" stroke="#111" stroke-width="0.13" >7</text>
<text x="145.5" y="688.7" font-size="8.77" textLength="4.56" lengthAdjust="spacingAndGlyphs" text-anchor="middle" fill="#111" stroke="#111" stroke-width="0.13" >9</text>
<text x="231.6" y="688.7" font-size="8.77" textLength="9.12" lengthAdjust="spacingAndGlyphs" text-anchor="middle" fill="#111" stroke="#111" stroke-width="0.13" >17</text>
<line x1="88.2" y1="693.4" x2="88.2" y2="702.8" stroke="#ff1414" stroke-width="1.15" />
<polyline points="84.65,697.9 88.2,693.1 91.75,697.9" fill="none" stroke="#ff1414" stroke-width="1.15" stroke-linejoin="round" />
<line x1="107.8" y1="693.4" x2="107.8" y2="702.8" stroke="#ff1414" stroke-width="1.15" />
<polyline points="104.25,697.9 107.8,693.1 111.35,697.9" fill="none" stroke="#ff1414" stroke-width="1.15" stroke-linejoin="round" />
<line x1="124.8" y1="693.4" x2="124.8" y2="702.8" stroke="#ff1414" stroke-width="1.15" />
<polyline points="121.25,697.9 124.8,693.1 128.35,697.9" fill="none" stroke="#ff1414" stroke-width="1.15" stroke-linejoin="round" />
<line x1="145.5" y1="693.4" x2="145.5" y2="702.8" stroke="#ff1414" stroke-width="1.15" />
<polyline points="141.95,697.9 145.5,693.1 149.05,697.9" fill="none" stroke="#ff1414" stroke-width="1.15" stroke-linejoin="round" />
<path d="M85.8 668.2 L90.6 668.2 Q89.4 672 88.2 677.4 Q87 672 85.8 668.2 Z" fill="#3a68c8"/>
<path d="M105.7 668.2 L110.5 668.2 Q109.3 672 108.1 677.4 Q106.9 672 105.7 668.2 Z" fill="#3a68c8"/>
<path d="M122.8 668.2 L127.6 668.2 Q126.4 672 125.2 677.4 Q124 672 122.8 668.2 Z" fill="#3a68c8"/>
<path d="M143.2 668.2 L148 668.2 Q146.8 672 145.6 677.4 Q144.4 672 143.2 668.2 Z" fill="#3a68c8"/>
<path d="M162.6 663.6 L167.4 663.6 Q166.2 667.2 165 672 Q163.8 667.2 162.6 663.6 Z" fill="#3a68c8"/>
<text x="167.8" y="669.6" font-size="8.99" textLength="54.47" lengthAdjust="spacingAndGlyphs" text-anchor="start" fill="#111" stroke="#111" stroke-width="0.13" >:6B11 mAb i.p.</text>
<text x="103" y="712.3" font-size="8.77" textLength="27.19" lengthAdjust="spacingAndGlyphs" text-anchor="start" fill="#111" stroke="#111" stroke-width="0.13" >NKT i.t.</text>
<text x="287" y="563.2" font-size="14.2" textLength="10.26" lengthAdjust="spacingAndGlyphs" text-anchor="start" fill="#111" stroke="#111" stroke-width="0.1" >H</text>
<line x1="335.2" y1="700.4" x2="335.2" y2="559.4" stroke="#666666" stroke-width="1.1" />
<line x1="334.7" y1="700.4" x2="475.8" y2="700.4" stroke="#666666" stroke-width="1.1" />
<line x1="332.2" y1="700.4" x2="335.2" y2="700.4" stroke="#666666" stroke-width="0.99" />
<text x="331.9" y="703.2" font-size="7.49" textLength="3.89" lengthAdjust="spacingAndGlyphs" text-anchor="end" fill="#222" stroke="#222" stroke-width="0.13" >0</text>
<line x1="332.2" y1="665.27" x2="335.2" y2="665.27" stroke="#666666" stroke-width="0.99" />
<text x="331.9" y="668.07" font-size="7.49" textLength="11.68" lengthAdjust="spacingAndGlyphs" text-anchor="end" fill="#222" stroke="#222" stroke-width="0.13" >500</text>
<line x1="332.2" y1="630.15" x2="335.2" y2="630.15" stroke="#666666" stroke-width="0.99" />
<text x="331.9" y="632.95" font-size="7.49" textLength="17.52" lengthAdjust="spacingAndGlyphs" text-anchor="end" fill="#222" stroke="#222" stroke-width="0.13" >1,000</text>
<line x1="332.2" y1="595.02" x2="335.2" y2="595.02" stroke="#666666" stroke-width="0.99" />
<text x="331.9" y="597.82" font-size="7.49" textLength="17.52" lengthAdjust="spacingAndGlyphs" text-anchor="end" fill="#222" stroke="#222" stroke-width="0.13" >1,500</text>
<line x1="332.2" y1="559.9" x2="335.2" y2="559.9" stroke="#666666" stroke-width="0.99" />
<text x="331.9" y="562.7" font-size="7.49" textLength="17.52" lengthAdjust="spacingAndGlyphs" text-anchor="end" fill="#222" stroke="#222" stroke-width="0.13" >2,000</text>
<line x1="335.2" y1="700.4" x2="335.2" y2="703.4" stroke="#666666" stroke-width="0.99" />
<text x="335.2" y="710.5" font-size="7.38" textLength="3.84" lengthAdjust="spacingAndGlyphs" text-anchor="middle" fill="#222" stroke="#222" stroke-width="0.13" >0</text>
<line x1="350.82" y1="700.4" x2="350.82" y2="703.4" stroke="#666666" stroke-width="0.99" />
<text x="350.82" y="710.5" font-size="7.38" textLength="3.84" lengthAdjust="spacingAndGlyphs" text-anchor="middle" fill="#222" stroke="#222" stroke-width="0.13" >2</text>
<line x1="366.44" y1="700.4" x2="366.44" y2="703.4" stroke="#666666" stroke-width="0.99" />
<text x="366.44" y="710.5" font-size="7.38" textLength="3.84" lengthAdjust="spacingAndGlyphs" text-anchor="middle" fill="#222" stroke="#222" stroke-width="0.13" >4</text>
<line x1="382.07" y1="700.4" x2="382.07" y2="703.4" stroke="#666666" stroke-width="0.99" />
<text x="382.07" y="710.5" font-size="7.38" textLength="3.84" lengthAdjust="spacingAndGlyphs" text-anchor="middle" fill="#222" stroke="#222" stroke-width="0.13" >6</text>
<line x1="397.69" y1="700.4" x2="397.69" y2="703.4" stroke="#666666" stroke-width="0.99" />
<text x="397.69" y="710.5" font-size="7.38" textLength="3.84" lengthAdjust="spacingAndGlyphs" text-anchor="middle" fill="#222" stroke="#222" stroke-width="0.13" >8</text>
<line x1="413.31" y1="700.4" x2="413.31" y2="703.4" stroke="#666666" stroke-width="0.99" />
<text x="413.31" y="710.5" font-size="7.38" textLength="7.68" lengthAdjust="spacingAndGlyphs" text-anchor="middle" fill="#222" stroke="#222" stroke-width="0.13" >10</text>
<line x1="428.93" y1="700.4" x2="428.93" y2="703.4" stroke="#666666" stroke-width="0.99" />
<text x="428.93" y="710.5" font-size="7.38" textLength="7.68" lengthAdjust="spacingAndGlyphs" text-anchor="middle" fill="#222" stroke="#222" stroke-width="0.13" >12</text>
<line x1="444.56" y1="700.4" x2="444.56" y2="703.4" stroke="#666666" stroke-width="0.99" />
<text x="444.56" y="710.5" font-size="7.38" textLength="7.68" lengthAdjust="spacingAndGlyphs" text-anchor="middle" fill="#222" stroke="#222" stroke-width="0.13" >14</text>
<line x1="460.18" y1="700.4" x2="460.18" y2="703.4" stroke="#666666" stroke-width="0.99" />
<text x="460.18" y="710.5" font-size="7.38" textLength="7.68" lengthAdjust="spacingAndGlyphs" text-anchor="middle" fill="#222" stroke="#222" stroke-width="0.13" >16</text>
<line x1="475.8" y1="700.4" x2="475.8" y2="703.4" stroke="#666666" stroke-width="0.99" />
<text x="475.8" y="710.5" font-size="7.38" textLength="7.68" lengthAdjust="spacingAndGlyphs" text-anchor="middle" fill="#222" stroke="#222" stroke-width="0.13" >18</text>
<text x="407.2" y="720.7" font-size="8.99" textLength="14.94" lengthAdjust="spacingAndGlyphs" text-anchor="middle" fill="#111" stroke="#111" stroke-width="0.13" >Day</text>
<text x="0" y="0" font-size="8.1" text-anchor="middle" fill="#1a1a1a" stroke="#1a1a1a" stroke-width="0.2" transform="translate(310.4,631.55) rotate(-90) scale(1,1.1)">Tumor volume (mm<tspan font-size="4.7" dy="-2.6" stroke-width="0.1">3</tspan><tspan dy="2.6">)</tspan></text>
<line x1="389.88" y1="688.46" x2="389.88" y2="687.05" stroke="#ffa602" stroke-width="1.15" opacity="0.8"/>
<line x1="387.88" y1="687.05" x2="391.88" y2="687.05" stroke="#ffa602" stroke-width="1.15" opacity="0.8"/>
<line x1="436.74" y1="686.63" x2="436.74" y2="683.47" stroke="#ffa602" stroke-width="1.15" opacity="0.8"/>
<line x1="434.74" y1="683.47" x2="438.74" y2="683.47" stroke="#ffa602" stroke-width="1.15" opacity="0.8"/>
<line x1="452.37" y1="679.75" x2="452.37" y2="671.95" stroke="#ffa602" stroke-width="1.15" opacity="0.8"/>
<line x1="450.37" y1="671.95" x2="454.37" y2="671.95" stroke="#ffa602" stroke-width="1.15" opacity="0.8"/>
<line x1="467.99" y1="667.73" x2="467.99" y2="650.52" stroke="#ffa602" stroke-width="1.15" opacity="0.8"/>
<line x1="465.99" y1="650.52" x2="469.99" y2="650.52" stroke="#ffa602" stroke-width="1.15" opacity="0.8"/>
<polyline points="358.63,686.7 374.26,684.94 389.88,688.46 405.5,688.53 421.12,688.53 436.74,686.63 452.37,679.75 467.99,667.73" fill="none" stroke="#ffa602" stroke-width="1.1" stroke-linejoin="round" opacity="0.82"/>
<polygon points="358.63,684.18 356.11,688.59 361.15,688.59" fill="#ffa602" />
<polygon points="374.26,682.42 371.74,686.83 376.78,686.83" fill="#ffa602" />
<polygon points="389.88,685.94 387.36,690.35 392.4,690.35" fill="#ffa602" />
<polygon points="405.5,686.01 402.98,690.42 408.02,690.42" fill="#ffa602" />
<polygon points="421.12,686.01 418.6,690.42 423.64,690.42" fill="#ffa602" />
<polygon points="436.74,684.11 434.22,688.52 439.26,688.52" fill="#ffa602" />
<polygon points="452.37,677.23 449.85,681.64 454.89,681.64" fill="#ffa602" />
<polygon points="467.99,665.21 465.47,669.62 470.51,669.62" fill="#ffa602" />
<line x1="452.37" y1="685.72" x2="452.37" y2="682.63" stroke="#ff2b1f" stroke-width="1.15" opacity="0.8"/>
<line x1="450.37" y1="682.63" x2="454.37" y2="682.63" stroke="#ff2b1f" stroke-width="1.15" opacity="0.8"/>
<line x1="467.99" y1="679.25" x2="467.99" y2="676.51" stroke="#ff2b1f" stroke-width="1.15" opacity="0.8"/>
<line x1="465.99" y1="676.51" x2="469.99" y2="676.51" stroke="#ff2b1f" stroke-width="1.15" opacity="0.8"/>
<polyline points="358.63,686.7 374.26,685.44 389.88,689.23 405.5,689.65 421.12,691.2 436.74,687.33 452.37,685.72 467.99,679.25" fill="none" stroke="#ff2b1f" stroke-width="1.1" stroke-linejoin="round" opacity="0.82"/>
<rect x="356.53" y="684.6" width="4.2" height="4.2" fill="#ff2b1f"/>
<rect x="372.16" y="683.34" width="4.2" height="4.2" fill="#ff2b1f"/>
<rect x="387.78" y="687.13" width="4.2" height="4.2" fill="#ff2b1f"/>
<rect x="403.4" y="687.55" width="4.2" height="4.2" fill="#ff2b1f"/>
<rect x="419.02" y="689.1" width="4.2" height="4.2" fill="#ff2b1f"/>
<rect x="434.64" y="685.23" width="4.2" height="4.2" fill="#ff2b1f"/>
<rect x="450.27" y="683.62" width="4.2" height="4.2" fill="#ff2b1f"/>
<rect x="465.89" y="677.15" width="4.2" height="4.2" fill="#ff2b1f"/>
<line x1="421.12" y1="655.09" x2="421.12" y2="652.77" stroke="#1434fa" stroke-width="1.15" opacity="0.8"/>
<line x1="419.12" y1="652.77" x2="423.12" y2="652.77" stroke="#1434fa" stroke-width="1.15" opacity="0.8"/>
<line x1="436.74" y1="641.95" x2="436.74" y2="639.63" stroke="#1434fa" stroke-width="1.15" opacity="0.8"/>
<line x1="434.74" y1="639.63" x2="438.74" y2="639.63" stroke="#1434fa" stroke-width="1.15" opacity="0.8"/>
<line x1="467.99" y1="589.4" x2="467.99" y2="576.27" stroke="#1434fa" stroke-width="1.15" opacity="0.8"/>
<line x1="465.99" y1="576.27" x2="469.99" y2="576.27" stroke="#1434fa" stroke-width="1.15" opacity="0.8"/>
<polyline points="358.63,686 374.26,681.85 389.88,670.33 405.5,664.99 421.12,655.09 436.74,641.95 452.37,631.34 467.99,589.4" fill="none" stroke="#1434fa" stroke-width="1.1" stroke-linejoin="round" opacity="0.82"/>
<circle cx="358.63" cy="686" r="2.1" fill="#1434fa"/>
<circle cx="374.26" cy="681.85" r="2.1" fill="#1434fa"/>
<circle cx="389.88" cy="670.33" r="2.1" fill="#1434fa"/>
<circle cx="405.5" cy="664.99" r="2.1" fill="#1434fa"/>
<circle cx="421.12" cy="655.09" r="2.1" fill="#1434fa"/>
<circle cx="436.74" cy="641.95" r="2.1" fill="#1434fa"/>
<circle cx="452.37" cy="631.34" r="2.1" fill="#1434fa"/>
<circle cx="467.99" cy="589.4" r="2.1" fill="#1434fa"/>
<line x1="347.5" y1="576" x2="358" y2="576" stroke="#1434fa" stroke-width="1" opacity="0.75"/>
<circle cx="352.75" cy="576" r="1.95" fill="#1434fa"/>
<text x="364" y="578.6" font-size="7.49" textLength="14.01" lengthAdjust="spacingAndGlyphs" text-anchor="start" fill="#111" stroke="#111" stroke-width="0.13" >PBS</text>
<line x1="347.5" y1="588" x2="358" y2="588" stroke="#ff2b1f" stroke-width="1" opacity="0.75"/>
<rect x="350.8" y="586.05" width="3.9" height="3.9" fill="#ff2b1f"/>
<text x="364" y="590.6" font-size="7.49" textLength="61.98" lengthAdjust="spacingAndGlyphs" text-anchor="start" fill="#111" stroke="#111" stroke-width="0.13" >NKT (6B11 mAb) i.t.</text>
<line x1="347.5" y1="600.3" x2="358" y2="600.3" stroke="#ffa602" stroke-width="1" opacity="0.75"/>
<polygon points="352.75,597.96 350.41,602.05 355.09,602.05" fill="#ffa602" />
<text x="364" y="602.9" font-size="7.49" textLength="70.55" lengthAdjust="spacingAndGlyphs" text-anchor="start" fill="#111" stroke="#111" stroke-width="0.13" >NKT i.t./ 6B11 mAb i.p.</text>
<polyline points="473.2,589.4 475.6,589.4 475.6,667.5 473.2,667.5" fill="none" stroke="#6a6a6a" stroke-width="0.95" stroke-linejoin="round" />
<polygon points="478.7,623.6 479.23,624.67 480.41,624.84 479.56,625.68 479.76,626.86 478.7,626.3 477.64,626.86 477.84,625.68 476.99,624.84 478.17,624.67" fill="#111" />
<polygon points="482.5,623.6 483.03,624.67 484.21,624.84 483.36,625.68 483.56,626.86 482.5,626.3 481.44,626.86 481.64,625.68 480.79,624.84 481.97,624.67" fill="#111" />
<polygon points="486.3,623.6 486.83,624.67 488.01,624.84 487.16,625.68 487.36,626.86 486.3,626.3 485.24,626.86 485.44,625.68 484.59,624.84 485.77,624.67" fill="#111" />
<polygon points="490.1,623.6 490.63,624.67 491.81,624.84 490.96,625.68 491.16,626.86 490.1,626.3 489.04,626.86 489.24,625.68 488.39,624.84 489.57,624.67" fill="#111" />
<polyline points="492,589.4 494.6,589.4 494.6,679.7 492,679.7" fill="none" stroke="#6a6a6a" stroke-width="0.95" stroke-linejoin="round" />
<polygon points="497.7,630.7 498.23,631.77 499.41,631.94 498.56,632.78 498.76,633.96 497.7,633.4 496.64,633.96 496.84,632.78 495.99,631.94 497.17,631.77" fill="#111" />
<polygon points="501.5,630.7 502.03,631.77 503.21,631.94 502.36,632.78 502.56,633.96 501.5,633.4 500.44,633.96 500.64,632.78 499.79,631.94 500.97,631.77" fill="#111" />
<polygon points="505.3,630.7 505.83,631.77 507.01,631.94 506.16,632.78 506.36,633.96 505.3,633.4 504.24,633.96 504.44,632.78 503.59,631.94 504.77,631.77" fill="#111" />
<polygon points="509.1,630.7 509.63,631.77 510.81,631.94 509.96,632.78 510.16,633.96 509.1,633.4 508.04,633.96 508.24,632.78 507.39,631.94 508.57,631.77" fill="#111" />
</svg>
</body></html>
